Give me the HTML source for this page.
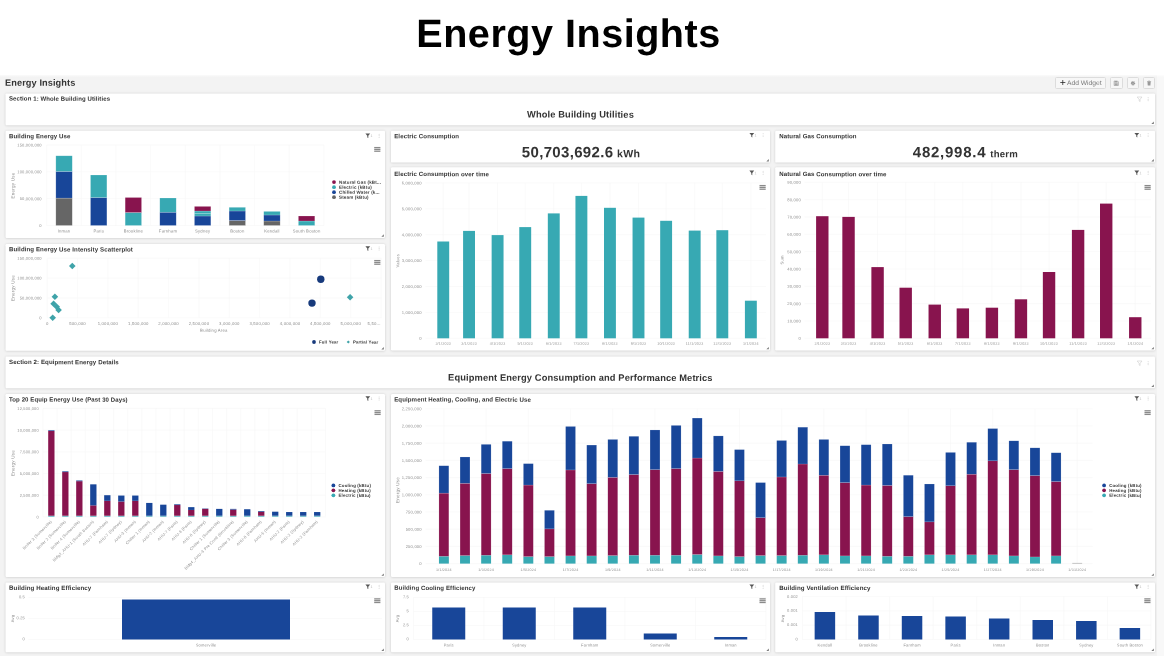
<!DOCTYPE html>
<html lang="en"><head><meta charset="utf-8"><title>Energy Insights</title>
<style>
*{box-sizing:border-box;margin:0;padding:0}
html,body{text-rendering:geometricPrecision;width:1166px;height:656px;overflow:hidden;background:#fff;font-family:"Liberation Sans", sans-serif;}
#slide{position:relative;width:1166px;height:656px;overflow:hidden;background:#fff}
#slide-title{position:absolute;left:0;top:10px;width:1137px;text-align:center;font-weight:bold;font-size:39.6px;line-height:48px;color:#000;letter-spacing:0.5px;white-space:nowrap}
#board{position:absolute;left:0;top:0;width:1166px;height:656px}
#dash{position:absolute;left:-12px;top:74.5px;width:1169px;height:600px;background:linear-gradient(to bottom,#fbfbfb 0,#f3f3f3 2.2px,#f3f3f3 100%)}
#strip{position:absolute;left:1157px;top:74.5px;width:7px;height:600px;background:linear-gradient(to bottom,#fdfdfd 0,#f8f8f8 2.2px,#f8f8f8 100%)}
#dash-title{position:absolute;left:0;top:0;transform-origin:0 0;transform:translate(5px,78.71px) rotate(0.07deg);font-weight:bold;font-size:9.2px;line-height:1;color:#333;white-space:nowrap;letter-spacing:0.1px}
.tb{position:absolute;top:76.5px;height:12.5px;border:0.6px solid #dcdcdc;border-radius:1.5px;background:#f7f7f7;color:#555;font-size:6.7px;line-height:11.3px;text-align:center;white-space:nowrap}
.tb svg{position:absolute;left:0;top:0;width:100%;height:100%}
.panel{position:absolute}
.panel h3{position:absolute;left:3.5px;top:0;transform-origin:0 0;font-size:6.1px;line-height:7px;font-weight:bold;color:#333;white-space:nowrap;letter-spacing:0.1px}
.panel svg{position:absolute;left:0;top:0;overflow:visible;font-family:"Liberation Sans", sans-serif}
.sec-h,.big,.unit{position:absolute;left:0;top:0;transform-origin:0 0;font-weight:bold;color:#333;white-space:nowrap;line-height:1}
.sec-h{font-size:9.3px;letter-spacing:0.1px}
.big{font-size:15px}
</style></head><body>
<div id="slide">
<div id="slide-title">Energy Insights</div>
<div id="board">
<div id="dash"></div><div id="strip"></div>
<div id="dash-title">Energy Insights</div>
<div class="tb" style="left:1055.3px;width:50.6px;color:#777"><b style="font-weight:normal;color:#222;font-size:10.5px;vertical-align:-1.3px;line-height:0;margin-right:-0.3px">+</b> Add Widget</div>
<div class="tb" style="left:1110.2px;width:12.4px"><svg viewBox="0 0 12.4 12.5"><path d="M3.7 3.6 h4.1 l1 1 v4.3 h-5.1 z" fill="#d9d9d9" stroke="#8a8a8a" stroke-width="0.6"/><rect x="4.7" y="3.7" width="2.6" height="1.5" fill="#9a9a9a"/><rect x="4.6" y="6.4" width="3.2" height="2.4" fill="#a5a5a5"/></svg></div>
<div class="tb" style="left:1126.8px;width:12px"><svg viewBox="0 0 12 12.5"><circle cx="6" cy="6.3" r="1.9" fill="none" stroke="#8e8e8e" stroke-width="1.5" stroke-dasharray="0.95 0.54"/><circle cx="6" cy="6.3" r="1.55" fill="#8e8e8e"/><circle cx="6" cy="6.3" r="0.6" fill="#e4e4e4"/></svg></div>
<div class="tb" style="left:1142.9px;width:12.1px"><svg viewBox="0 0 12.1 12.5"><path d="M4.2 4.8 h3.8 l-0.3 4.2 h-3.2 z" fill="#999"/><rect x="3.7" y="3.8" width="4.8" height="0.7" fill="#8a8a8a"/><rect x="5.2" y="3.2" width="1.8" height="0.7" fill="#8a8a8a"/></svg></div>
<svg width="0" height="0" style="position:absolute"><defs><filter id="sh" x="-2%" y="-20%" width="104%" height="140%" color-interpolation-filters="sRGB"><feDropShadow dx="0" dy="0.3" stdDeviation="1.1" flood-color="#000" flood-opacity="0.17"/></filter></defs></svg>
<div class="panel" id="p-sec1" style="left:5px;top:93px;width:1150px;height:33px">
<svg width="1150" height="33" viewBox="5 93 1150 33"><rect x="5.5" y="93.4" width="1149.50" height="31.80" rx="1.2" fill="#fff" filter="url(#sh)"/><text transform="translate(527.00 117.50) rotate(0.08)" font-size="9.3" fill="#333333" letter-spacing="0.13" text-anchor="start" font-weight="bold">Whole Building Utilities</text><path d="M1137.20 97.00 h4.8 l-1.9 2.3 v2.3 l-1 -0.7 v-1.6 z" fill="none" stroke="#c4c4c4" stroke-width="0.5"/><circle cx="1148.10" cy="97.70" r="0.45" fill="#bdbdbd"/><circle cx="1148.10" cy="99.20" r="0.45" fill="#bdbdbd"/><circle cx="1148.10" cy="100.70" r="0.45" fill="#bdbdbd"/><path d="M1153.80 121.60 v2.4 h-2.4 z" fill="#777"/></svg>
<h3 style="font-size:6.03px;transform:translate(0.00px,3.60px) rotate(0.07deg)">Section 1: Whole Building Utilities</h3>
</div>
<div class="panel" id="p-beu" style="left:5px;top:130px;width:380px;height:108px">
<svg width="380" height="108" viewBox="5 130 380 108"><rect x="5.5" y="130.7" width="379.50" height="107.20" rx="1.2" fill="#fff" filter="url(#sh)"/><line x1="46.70" y1="225.50" x2="324.00" y2="225.50" stroke="#f6f6f6" stroke-width="0.6"/><text transform="translate(41.80 227.00) rotate(0.08)" font-size="4.07" fill="#8f8f8f" letter-spacing="0.18" text-anchor="end" font-weight="normal" >0</text><line x1="46.70" y1="198.65" x2="324.00" y2="198.65" stroke="#f6f6f6" stroke-width="0.6"/><text transform="translate(41.80 200.15) rotate(0.08)" font-size="4.07" fill="#8f8f8f" letter-spacing="0.18" text-anchor="end" font-weight="normal" >50,000,000</text><line x1="46.70" y1="171.80" x2="324.00" y2="171.80" stroke="#f6f6f6" stroke-width="0.6"/><text transform="translate(41.80 173.30) rotate(0.08)" font-size="4.07" fill="#8f8f8f" letter-spacing="0.18" text-anchor="end" font-weight="normal" >100,000,000</text><line x1="46.70" y1="144.95" x2="324.00" y2="144.95" stroke="#f6f6f6" stroke-width="0.6"/><text transform="translate(41.80 146.45) rotate(0.08)" font-size="4.07" fill="#8f8f8f" letter-spacing="0.18" text-anchor="end" font-weight="normal" >150,000,000</text><line x1="46.70" y1="144.95" x2="46.70" y2="225.50" stroke="#f6f6f6" stroke-width="0.6"/><line x1="81.35" y1="144.95" x2="81.35" y2="225.50" stroke="#f6f6f6" stroke-width="0.6"/><line x1="116.00" y1="144.95" x2="116.00" y2="225.50" stroke="#f6f6f6" stroke-width="0.6"/><line x1="150.65" y1="144.95" x2="150.65" y2="225.50" stroke="#f6f6f6" stroke-width="0.6"/><line x1="185.30" y1="144.95" x2="185.30" y2="225.50" stroke="#f6f6f6" stroke-width="0.6"/><line x1="219.95" y1="144.95" x2="219.95" y2="225.50" stroke="#f6f6f6" stroke-width="0.6"/><line x1="254.60" y1="144.95" x2="254.60" y2="225.50" stroke="#f6f6f6" stroke-width="0.6"/><line x1="289.25" y1="144.95" x2="289.25" y2="225.50" stroke="#f6f6f6" stroke-width="0.6"/><line x1="323.90" y1="144.95" x2="323.90" y2="225.50" stroke="#f6f6f6" stroke-width="0.6"/><text x="0.00" y="0.00" font-size="4.6" fill="#8f8f8f" letter-spacing="0.18" text-anchor="middle" font-weight="normal" transform="translate(14.4 185.5) rotate(-90.08)">Energy Use</text><rect x="55.85" y="198.10" width="16.40" height="27.40" fill="#666666" stroke="#ffffff" stroke-opacity="0.35" stroke-width="0.5"/><rect x="55.85" y="171.40" width="16.40" height="26.70" fill="#184699" stroke="#ffffff" stroke-opacity="0.35" stroke-width="0.5"/><rect x="55.85" y="155.80" width="16.40" height="15.60" fill="#37a9b3" stroke="#ffffff" stroke-opacity="0.35" stroke-width="0.5"/><text transform="translate(64.05 232.40) rotate(0.08)" font-size="4.25" fill="#8f8f8f" letter-spacing="0.18" text-anchor="middle" font-weight="normal" >Inman</text><rect x="90.50" y="197.50" width="16.40" height="28.00" fill="#184699" stroke="#ffffff" stroke-opacity="0.35" stroke-width="0.5"/><rect x="90.50" y="175.00" width="16.40" height="22.50" fill="#37a9b3" stroke="#ffffff" stroke-opacity="0.35" stroke-width="0.5"/><text transform="translate(98.70 232.40) rotate(0.08)" font-size="4.25" fill="#8f8f8f" letter-spacing="0.18" text-anchor="middle" font-weight="normal" >Paris</text><rect x="125.15" y="212.50" width="16.40" height="13.00" fill="#37a9b3" stroke="#ffffff" stroke-opacity="0.35" stroke-width="0.5"/><rect x="125.15" y="197.50" width="16.40" height="15.00" fill="#88144e" stroke="#ffffff" stroke-opacity="0.35" stroke-width="0.5"/><text transform="translate(133.35 232.40) rotate(0.08)" font-size="4.25" fill="#8f8f8f" letter-spacing="0.18" text-anchor="middle" font-weight="normal" >Brookline</text><rect x="159.80" y="212.20" width="16.40" height="13.30" fill="#184699" stroke="#ffffff" stroke-opacity="0.35" stroke-width="0.5"/><rect x="159.80" y="198.00" width="16.40" height="14.20" fill="#37a9b3" stroke="#ffffff" stroke-opacity="0.35" stroke-width="0.5"/><text transform="translate(168.00 232.40) rotate(0.08)" font-size="4.25" fill="#8f8f8f" letter-spacing="0.18" text-anchor="middle" font-weight="normal" >Farnham</text><rect x="194.45" y="216.00" width="16.40" height="9.50" fill="#184699" stroke="#ffffff" stroke-opacity="0.35" stroke-width="0.5"/><rect x="194.45" y="213.60" width="16.40" height="2.40" fill="#37a9b3" stroke="#ffffff" stroke-opacity="0.35" stroke-width="0.5"/><rect x="194.45" y="211.00" width="16.40" height="2.60" fill="#37a9b3" stroke="#ffffff" stroke-opacity="0.35" stroke-width="0.5"/><rect x="194.45" y="206.40" width="16.40" height="4.60" fill="#88144e" stroke="#ffffff" stroke-opacity="0.35" stroke-width="0.5"/><text transform="translate(202.65 232.40) rotate(0.08)" font-size="4.25" fill="#8f8f8f" letter-spacing="0.18" text-anchor="middle" font-weight="normal" >Sydney</text><rect x="229.10" y="220.50" width="16.40" height="5.00" fill="#666666" stroke="#ffffff" stroke-opacity="0.35" stroke-width="0.5"/><rect x="229.10" y="211.00" width="16.40" height="9.50" fill="#184699" stroke="#ffffff" stroke-opacity="0.35" stroke-width="0.5"/><rect x="229.10" y="207.30" width="16.40" height="3.70" fill="#37a9b3" stroke="#ffffff" stroke-opacity="0.35" stroke-width="0.5"/><text transform="translate(237.30 232.40) rotate(0.08)" font-size="4.25" fill="#8f8f8f" letter-spacing="0.18" text-anchor="middle" font-weight="normal" >Boston</text><rect x="263.75" y="221.00" width="16.40" height="4.50" fill="#666666" stroke="#ffffff" stroke-opacity="0.35" stroke-width="0.5"/><rect x="263.75" y="215.00" width="16.40" height="6.00" fill="#184699" stroke="#ffffff" stroke-opacity="0.35" stroke-width="0.5"/><rect x="263.75" y="211.40" width="16.40" height="3.60" fill="#37a9b3" stroke="#ffffff" stroke-opacity="0.35" stroke-width="0.5"/><text transform="translate(271.95 232.40) rotate(0.08)" font-size="4.25" fill="#8f8f8f" letter-spacing="0.18" text-anchor="middle" font-weight="normal" >Kendall</text><rect x="298.40" y="221.00" width="16.40" height="4.50" fill="#37a9b3" stroke="#ffffff" stroke-opacity="0.35" stroke-width="0.5"/><rect x="298.40" y="216.00" width="16.40" height="5.00" fill="#88144e" stroke="#ffffff" stroke-opacity="0.35" stroke-width="0.5"/><text transform="translate(306.60 232.40) rotate(0.08)" font-size="4.25" fill="#8f8f8f" letter-spacing="0.18" text-anchor="middle" font-weight="normal" >South Boston</text><circle cx="334" cy="182.10" r="1.9" fill="#88144e"/><text transform="translate(339.00 183.65) rotate(0.08)" font-size="4.48" fill="#333333" letter-spacing="0.18" text-anchor="start" font-weight="bold" >Natural Gas (kBt...</text><circle cx="334" cy="187.13" r="1.9" fill="#37a9b3"/><text transform="translate(339.00 188.68) rotate(0.08)" font-size="4.48" fill="#333333" letter-spacing="0.18" text-anchor="start" font-weight="bold" >Electric (kBtu)</text><circle cx="334" cy="192.16" r="1.9" fill="#184699"/><text transform="translate(339.00 193.71) rotate(0.08)" font-size="4.48" fill="#333333" letter-spacing="0.18" text-anchor="start" font-weight="bold" >Chilled Water (k...</text><circle cx="334" cy="197.19" r="1.9" fill="#666666"/><text transform="translate(339.00 198.74) rotate(0.08)" font-size="4.48" fill="#333333" letter-spacing="0.18" text-anchor="start" font-weight="bold" >Steam (kBtu)</text><rect x="374.20" y="146.95" width="6.20" height="1.30" fill="#8a8a8a" /><rect x="374.20" y="148.75" width="6.20" height="1.30" fill="#8a8a8a" /><rect x="374.20" y="150.55" width="6.20" height="1.30" fill="#8a8a8a" /><path d="M365.40 133.50 h4.8 l-1.9 2.3 v2.3 l-1 -0.7 v-1.6 z" fill="#555"/><text transform="translate(371.70 137.10) rotate(0.08)" font-size="3.54" fill="#b5b5b5" letter-spacing="0.18" text-anchor="middle" font-weight="normal" >1</text><circle cx="379.10" cy="134.20" r="0.45" fill="#bdbdbd"/><circle cx="379.10" cy="135.70" r="0.45" fill="#bdbdbd"/><circle cx="379.10" cy="137.20" r="0.45" fill="#bdbdbd"/><path d="M383.80 234.30 v2.4 h-2.4 z" fill="#777"/></svg>
<h3 style="transform:translate(0.00px,3.14px) rotate(0.07deg)">Building Energy Use</h3>
</div>
<div class="panel" id="p-eui" style="left:5px;top:244px;width:380px;height:107px">
<svg width="380" height="107" viewBox="5 244 380 107"><rect x="5.5" y="244" width="379.50" height="106.70" rx="1.2" fill="#fff" filter="url(#sh)"/><line x1="47.20" y1="317.80" x2="381.50" y2="317.80" stroke="#f6f6f6" stroke-width="0.6"/><text transform="translate(41.80 319.30) rotate(0.08)" font-size="4.07" fill="#8f8f8f" letter-spacing="0.18" text-anchor="end" font-weight="normal" >0</text><line x1="47.20" y1="297.95" x2="381.50" y2="297.95" stroke="#f6f6f6" stroke-width="0.6"/><text transform="translate(41.80 299.45) rotate(0.08)" font-size="4.07" fill="#8f8f8f" letter-spacing="0.18" text-anchor="end" font-weight="normal" >50,000,000</text><line x1="47.20" y1="278.10" x2="381.50" y2="278.10" stroke="#f6f6f6" stroke-width="0.6"/><text transform="translate(41.80 279.60) rotate(0.08)" font-size="4.07" fill="#8f8f8f" letter-spacing="0.18" text-anchor="end" font-weight="normal" >100,000,000</text><line x1="47.20" y1="258.25" x2="381.50" y2="258.25" stroke="#f6f6f6" stroke-width="0.6"/><text transform="translate(41.80 259.75) rotate(0.08)" font-size="4.07" fill="#8f8f8f" letter-spacing="0.18" text-anchor="end" font-weight="normal" >150,000,000</text><line x1="47.20" y1="258.25" x2="47.20" y2="317.80" stroke="#f6f6f6" stroke-width="0.6"/><text transform="translate(47.20 325.10) rotate(0.08)" font-size="4.25" fill="#8f8f8f" letter-spacing="0.18" text-anchor="middle" font-weight="normal" >0</text><line x1="77.55" y1="258.25" x2="77.55" y2="317.80" stroke="#f6f6f6" stroke-width="0.6"/><text transform="translate(77.55 325.10) rotate(0.08)" font-size="4.25" fill="#8f8f8f" letter-spacing="0.18" text-anchor="middle" font-weight="normal" >500,000</text><line x1="107.90" y1="258.25" x2="107.90" y2="317.80" stroke="#f6f6f6" stroke-width="0.6"/><text transform="translate(107.90 325.10) rotate(0.08)" font-size="4.25" fill="#8f8f8f" letter-spacing="0.18" text-anchor="middle" font-weight="normal" >1,000,000</text><line x1="138.25" y1="258.25" x2="138.25" y2="317.80" stroke="#f6f6f6" stroke-width="0.6"/><text transform="translate(138.25 325.10) rotate(0.08)" font-size="4.25" fill="#8f8f8f" letter-spacing="0.18" text-anchor="middle" font-weight="normal" >1,500,000</text><line x1="168.60" y1="258.25" x2="168.60" y2="317.80" stroke="#f6f6f6" stroke-width="0.6"/><text transform="translate(168.60 325.10) rotate(0.08)" font-size="4.25" fill="#8f8f8f" letter-spacing="0.18" text-anchor="middle" font-weight="normal" >2,000,000</text><line x1="198.95" y1="258.25" x2="198.95" y2="317.80" stroke="#f6f6f6" stroke-width="0.6"/><text transform="translate(198.95 325.10) rotate(0.08)" font-size="4.25" fill="#8f8f8f" letter-spacing="0.18" text-anchor="middle" font-weight="normal" >2,500,000</text><line x1="229.30" y1="258.25" x2="229.30" y2="317.80" stroke="#f6f6f6" stroke-width="0.6"/><text transform="translate(229.30 325.10) rotate(0.08)" font-size="4.25" fill="#8f8f8f" letter-spacing="0.18" text-anchor="middle" font-weight="normal" >3,000,000</text><line x1="259.65" y1="258.25" x2="259.65" y2="317.80" stroke="#f6f6f6" stroke-width="0.6"/><text transform="translate(259.65 325.10) rotate(0.08)" font-size="4.25" fill="#8f8f8f" letter-spacing="0.18" text-anchor="middle" font-weight="normal" >3,500,000</text><line x1="290.00" y1="258.25" x2="290.00" y2="317.80" stroke="#f6f6f6" stroke-width="0.6"/><text transform="translate(290.00 325.10) rotate(0.08)" font-size="4.25" fill="#8f8f8f" letter-spacing="0.18" text-anchor="middle" font-weight="normal" >4,000,000</text><line x1="320.35" y1="258.25" x2="320.35" y2="317.80" stroke="#f6f6f6" stroke-width="0.6"/><text transform="translate(320.35 325.10) rotate(0.08)" font-size="4.25" fill="#8f8f8f" letter-spacing="0.18" text-anchor="middle" font-weight="normal" >4,500,000</text><line x1="350.70" y1="258.25" x2="350.70" y2="317.80" stroke="#f6f6f6" stroke-width="0.6"/><text transform="translate(350.70 325.10) rotate(0.08)" font-size="4.25" fill="#8f8f8f" letter-spacing="0.18" text-anchor="middle" font-weight="normal" >5,000,000</text><line x1="381.05" y1="258.25" x2="381.05" y2="317.80" stroke="#f6f6f6" stroke-width="0.6"/><text transform="translate(367.60 325.10) rotate(0.08)" font-size="4.25" fill="#8f8f8f" letter-spacing="0.18" text-anchor="start" font-weight="normal" >5,50...</text><text x="0.00" y="0.00" font-size="4.6" fill="#8f8f8f" letter-spacing="0.18" text-anchor="middle" font-weight="normal" transform="translate(14.4 288) rotate(-90.08)">Energy Use</text><text transform="translate(213.80 331.80) rotate(0.08)" font-size="4.25" fill="#8f8f8f" letter-spacing="0.18" text-anchor="middle" font-weight="normal" >Building Area</text><path d="M72.30 262.70 L75.60 266.00 L72.30 269.30 L69.00 266.00 z" fill="#3fa3a9"/><path d="M54.90 293.40 L58.20 296.70 L54.90 300.00 L51.60 296.70 z" fill="#3fa3a9"/><path d="M53.60 300.40 L56.90 303.70 L53.60 307.00 L50.30 303.70 z" fill="#3fa3a9"/><path d="M56.70 303.50 L60.00 306.80 L56.70 310.10 L53.40 306.80 z" fill="#3fa3a9"/><path d="M58.60 306.70 L61.90 310.00 L58.60 313.30 L55.30 310.00 z" fill="#3fa3a9"/><path d="M52.70 314.50 L56.00 317.80 L52.70 321.10 L49.40 317.80 z" fill="#3fa3a9"/><path d="M350.10 294.00 L353.40 297.30 L350.10 300.60 L346.80 297.30 z" fill="#3fa3a9"/><circle cx="320.8" cy="279.3" r="3.7" fill="#173a7c"/><circle cx="312.0" cy="303.1" r="3.7" fill="#173a7c"/><circle cx="314" cy="342" r="1.9" fill="#173a7c"/><text transform="translate(319.00 343.60) rotate(0.08)" font-size="4.31" fill="#333333" letter-spacing="0.18" text-anchor="start" font-weight="bold" >Full Year</text><path d="M348.30 340.40 L349.90 342.00 L348.30 343.60 L346.70 342.00 z" fill="#3fa3a9"/><text transform="translate(352.90 343.60) rotate(0.08)" font-size="4.31" fill="#333333" letter-spacing="0.18" text-anchor="start" font-weight="bold" >Partial Year</text><rect x="374.20" y="259.95" width="6.20" height="1.30" fill="#8a8a8a" /><rect x="374.20" y="261.75" width="6.20" height="1.30" fill="#8a8a8a" /><rect x="374.20" y="263.55" width="6.20" height="1.30" fill="#8a8a8a" /><path d="M365.40 246.30 h4.8 l-1.9 2.3 v2.3 l-1 -0.7 v-1.6 z" fill="#555"/><text transform="translate(371.70 249.90) rotate(0.08)" font-size="3.54" fill="#b5b5b5" letter-spacing="0.18" text-anchor="middle" font-weight="normal" >1</text><circle cx="379.10" cy="247.00" r="0.45" fill="#bdbdbd"/><circle cx="379.10" cy="248.50" r="0.45" fill="#bdbdbd"/><circle cx="379.10" cy="250.00" r="0.45" fill="#bdbdbd"/><path d="M383.80 347.10 v2.4 h-2.4 z" fill="#777"/></svg>
<h3 style="transform:translate(0.00px,2.32px) rotate(0.07deg)">Building Energy Use Intensity Scatterplot</h3>
</div>
<div class="panel" id="p-elec" style="left:391px;top:130px;width:379px;height:33px">
<svg width="379" height="33" viewBox="391 130 379 33"><rect x="391" y="130.7" width="379.00" height="31.90" rx="1.2" fill="#fff" filter="url(#sh)"/><text transform="translate(521.80 157.20) rotate(0.08)" font-size="15" fill="#333333" letter-spacing="0.33" text-anchor="start" font-weight="bold">50,703,692.6</text><text transform="translate(617.00 157.20) rotate(0.08)" font-size="10.6" fill="#333333" letter-spacing="0.3" text-anchor="start" font-weight="bold">kWh</text><path d="M749.40 132.90 h4.8 l-1.9 2.3 v2.3 l-1 -0.7 v-1.6 z" fill="#555"/><text transform="translate(755.70 136.50) rotate(0.08)" font-size="3.54" fill="#b5b5b5" letter-spacing="0.18" text-anchor="middle" font-weight="normal" >1</text><circle cx="763.10" cy="133.60" r="0.45" fill="#bdbdbd"/><circle cx="763.10" cy="135.10" r="0.45" fill="#bdbdbd"/><circle cx="763.10" cy="136.60" r="0.45" fill="#bdbdbd"/><path d="M768.80 159.00 v2.4 h-2.4 z" fill="#777"/></svg>
<h3 style="transform:translate(-0.80px,3.14px) rotate(0.07deg)">Electric Consumption</h3>
</div>
<div class="panel" id="p-elect" style="left:391px;top:167px;width:379px;height:184px">
<svg width="379" height="184" viewBox="391 167 379 184"><rect x="391" y="167.2" width="379.00" height="183.30" rx="1.2" fill="#fff" filter="url(#sh)"/><line x1="425.50" y1="338.30" x2="766.00" y2="338.30" stroke="#f6f6f6" stroke-width="0.6"/><text transform="translate(421.80 339.80) rotate(0.08)" font-size="4.13" fill="#8f8f8f" letter-spacing="0.18" text-anchor="end" font-weight="normal" >0</text><line x1="425.50" y1="312.40" x2="766.00" y2="312.40" stroke="#f6f6f6" stroke-width="0.6"/><text transform="translate(421.80 313.90) rotate(0.08)" font-size="4.13" fill="#8f8f8f" letter-spacing="0.18" text-anchor="end" font-weight="normal" >1,000,000</text><line x1="425.50" y1="286.50" x2="766.00" y2="286.50" stroke="#f6f6f6" stroke-width="0.6"/><text transform="translate(421.80 288.00) rotate(0.08)" font-size="4.13" fill="#8f8f8f" letter-spacing="0.18" text-anchor="end" font-weight="normal" >2,000,000</text><line x1="425.50" y1="260.60" x2="766.00" y2="260.60" stroke="#f6f6f6" stroke-width="0.6"/><text transform="translate(421.80 262.10) rotate(0.08)" font-size="4.13" fill="#8f8f8f" letter-spacing="0.18" text-anchor="end" font-weight="normal" >3,000,000</text><line x1="425.50" y1="234.70" x2="766.00" y2="234.70" stroke="#f6f6f6" stroke-width="0.6"/><text transform="translate(421.80 236.20) rotate(0.08)" font-size="4.13" fill="#8f8f8f" letter-spacing="0.18" text-anchor="end" font-weight="normal" >4,000,000</text><line x1="425.50" y1="208.80" x2="766.00" y2="208.80" stroke="#f6f6f6" stroke-width="0.6"/><text transform="translate(421.80 210.30) rotate(0.08)" font-size="4.13" fill="#8f8f8f" letter-spacing="0.18" text-anchor="end" font-weight="normal" >5,000,000</text><line x1="425.50" y1="182.90" x2="766.00" y2="182.90" stroke="#f6f6f6" stroke-width="0.6"/><text transform="translate(421.80 184.40) rotate(0.08)" font-size="4.13" fill="#8f8f8f" letter-spacing="0.18" text-anchor="end" font-weight="normal" >6,000,000</text><line x1="443.25" y1="182.90" x2="443.25" y2="338.30" stroke="#f6f6f6" stroke-width="0.6"/><line x1="469.04" y1="182.90" x2="469.04" y2="338.30" stroke="#f6f6f6" stroke-width="0.6"/><line x1="497.59" y1="182.90" x2="497.59" y2="338.30" stroke="#f6f6f6" stroke-width="0.6"/><line x1="525.22" y1="182.90" x2="525.22" y2="338.30" stroke="#f6f6f6" stroke-width="0.6"/><line x1="553.77" y1="182.90" x2="553.77" y2="338.30" stroke="#f6f6f6" stroke-width="0.6"/><line x1="581.40" y1="182.90" x2="581.40" y2="338.30" stroke="#f6f6f6" stroke-width="0.6"/><line x1="609.95" y1="182.90" x2="609.95" y2="338.30" stroke="#f6f6f6" stroke-width="0.6"/><line x1="638.50" y1="182.90" x2="638.50" y2="338.30" stroke="#f6f6f6" stroke-width="0.6"/><line x1="666.13" y1="182.90" x2="666.13" y2="338.30" stroke="#f6f6f6" stroke-width="0.6"/><line x1="694.68" y1="182.90" x2="694.68" y2="338.30" stroke="#f6f6f6" stroke-width="0.6"/><line x1="722.31" y1="182.90" x2="722.31" y2="338.30" stroke="#f6f6f6" stroke-width="0.6"/><line x1="750.86" y1="182.90" x2="750.86" y2="338.30" stroke="#f6f6f6" stroke-width="0.6"/><rect x="437.30" y="241.50" width="11.90" height="96.80" fill="#37a9b3" /><text transform="translate(443.25 344.80) rotate(0.08)" font-size="3.66" fill="#8f8f8f" letter-spacing="0.18" text-anchor="middle" font-weight="normal" >2/1/2023</text><rect x="463.09" y="230.90" width="11.90" height="107.40" fill="#37a9b3" /><text transform="translate(469.04 344.80) rotate(0.08)" font-size="3.66" fill="#8f8f8f" letter-spacing="0.18" text-anchor="middle" font-weight="normal" >3/1/2023</text><rect x="491.64" y="235.10" width="11.90" height="103.20" fill="#37a9b3" /><text transform="translate(497.59 344.80) rotate(0.08)" font-size="3.66" fill="#8f8f8f" letter-spacing="0.18" text-anchor="middle" font-weight="normal" >4/1/2023</text><rect x="519.27" y="227.10" width="11.90" height="111.20" fill="#37a9b3" /><text transform="translate(525.22 344.80) rotate(0.08)" font-size="3.66" fill="#8f8f8f" letter-spacing="0.18" text-anchor="middle" font-weight="normal" >5/1/2023</text><rect x="547.82" y="213.40" width="11.90" height="124.90" fill="#37a9b3" /><text transform="translate(553.77 344.80) rotate(0.08)" font-size="3.66" fill="#8f8f8f" letter-spacing="0.18" text-anchor="middle" font-weight="normal" >6/1/2023</text><rect x="575.45" y="195.90" width="11.90" height="142.40" fill="#37a9b3" /><text transform="translate(581.40 344.80) rotate(0.08)" font-size="3.66" fill="#8f8f8f" letter-spacing="0.18" text-anchor="middle" font-weight="normal" >7/1/2023</text><rect x="604.00" y="207.80" width="11.90" height="130.50" fill="#37a9b3" /><text transform="translate(609.95 344.80) rotate(0.08)" font-size="3.66" fill="#8f8f8f" letter-spacing="0.18" text-anchor="middle" font-weight="normal" >8/1/2023</text><rect x="632.55" y="217.60" width="11.90" height="120.70" fill="#37a9b3" /><text transform="translate(638.50 344.80) rotate(0.08)" font-size="3.66" fill="#8f8f8f" letter-spacing="0.18" text-anchor="middle" font-weight="normal" >9/1/2023</text><rect x="660.18" y="220.80" width="11.90" height="117.50" fill="#37a9b3" /><text transform="translate(666.13 344.80) rotate(0.08)" font-size="3.66" fill="#8f8f8f" letter-spacing="0.18" text-anchor="middle" font-weight="normal" >10/1/2023</text><rect x="688.73" y="230.60" width="11.90" height="107.70" fill="#37a9b3" /><text transform="translate(694.68 344.80) rotate(0.08)" font-size="3.66" fill="#8f8f8f" letter-spacing="0.18" text-anchor="middle" font-weight="normal" >11/1/2023</text><rect x="716.36" y="230.20" width="11.90" height="108.10" fill="#37a9b3" /><text transform="translate(722.31 344.80) rotate(0.08)" font-size="3.66" fill="#8f8f8f" letter-spacing="0.18" text-anchor="middle" font-weight="normal" >12/1/2023</text><rect x="744.91" y="300.70" width="11.90" height="37.60" fill="#37a9b3" /><text transform="translate(750.86 344.80) rotate(0.08)" font-size="3.66" fill="#8f8f8f" letter-spacing="0.18" text-anchor="middle" font-weight="normal" >1/1/2024</text><text x="0.00" y="0.00" font-size="4.13" fill="#8f8f8f" letter-spacing="0.18" text-anchor="middle" font-weight="normal" transform="translate(399.3 260.7) rotate(-90.08)">Values</text><rect x="759.50" y="184.95" width="6.20" height="1.30" fill="#8a8a8a" /><rect x="759.50" y="186.75" width="6.20" height="1.30" fill="#8a8a8a" /><rect x="759.50" y="188.55" width="6.20" height="1.30" fill="#8a8a8a" /><path d="M749.40 170.60 h4.8 l-1.9 2.3 v2.3 l-1 -0.7 v-1.6 z" fill="#555"/><text transform="translate(755.70 174.20) rotate(0.08)" font-size="3.54" fill="#b5b5b5" letter-spacing="0.18" text-anchor="middle" font-weight="normal" >1</text><circle cx="763.10" cy="171.30" r="0.45" fill="#bdbdbd"/><circle cx="763.10" cy="172.80" r="0.45" fill="#bdbdbd"/><circle cx="763.10" cy="174.30" r="0.45" fill="#bdbdbd"/><path d="M768.80 346.90 v2.4 h-2.4 z" fill="#777"/></svg>
<h3 style="transform:translate(-0.80px,4.06px) rotate(0.07deg)">Electric Consumption over time</h3>
</div>
<div class="panel" id="p-gas" style="left:775px;top:130px;width:380px;height:33px">
<svg width="380" height="33" viewBox="775 130 380 33"><rect x="775.2" y="130.7" width="379.80" height="31.90" rx="1.2" fill="#fff" filter="url(#sh)"/><text transform="translate(912.80 157.20) rotate(0.08)" font-size="15" fill="#333333" letter-spacing="0.75" text-anchor="start" font-weight="bold">482,998.4</text><text transform="translate(990.30 157.20) rotate(0.08)" font-size="9.6" fill="#333333" letter-spacing="0.2" text-anchor="start" font-weight="bold">therm</text><path d="M1134.40 132.90 h4.8 l-1.9 2.3 v2.3 l-1 -0.7 v-1.6 z" fill="#555"/><text transform="translate(1140.70 136.50) rotate(0.08)" font-size="3.54" fill="#b5b5b5" letter-spacing="0.18" text-anchor="middle" font-weight="normal" >1</text><circle cx="1148.10" cy="133.60" r="0.45" fill="#bdbdbd"/><circle cx="1148.10" cy="135.10" r="0.45" fill="#bdbdbd"/><circle cx="1148.10" cy="136.60" r="0.45" fill="#bdbdbd"/><path d="M1153.80 159.00 v2.4 h-2.4 z" fill="#777"/></svg>
<h3 style="transform:translate(0.20px,3.14px) rotate(0.07deg)">Natural Gas Consumption</h3>
</div>
<div class="panel" id="p-gast" style="left:775px;top:167px;width:380px;height:184px">
<svg width="380" height="184" viewBox="775 167 380 184"><rect x="775.2" y="167.2" width="379.80" height="183.30" rx="1.2" fill="#fff" filter="url(#sh)"/><line x1="804.50" y1="338.30" x2="1151.00" y2="338.30" stroke="#f6f6f6" stroke-width="0.6"/><text transform="translate(800.90 339.80) rotate(0.08)" font-size="4.13" fill="#8f8f8f" letter-spacing="0.18" text-anchor="end" font-weight="normal" >0</text><line x1="804.50" y1="320.97" x2="1151.00" y2="320.97" stroke="#f6f6f6" stroke-width="0.6"/><text transform="translate(800.90 322.47) rotate(0.08)" font-size="4.13" fill="#8f8f8f" letter-spacing="0.18" text-anchor="end" font-weight="normal" >10,000</text><line x1="804.50" y1="303.64" x2="1151.00" y2="303.64" stroke="#f6f6f6" stroke-width="0.6"/><text transform="translate(800.90 305.14) rotate(0.08)" font-size="4.13" fill="#8f8f8f" letter-spacing="0.18" text-anchor="end" font-weight="normal" >20,000</text><line x1="804.50" y1="286.31" x2="1151.00" y2="286.31" stroke="#f6f6f6" stroke-width="0.6"/><text transform="translate(800.90 287.81) rotate(0.08)" font-size="4.13" fill="#8f8f8f" letter-spacing="0.18" text-anchor="end" font-weight="normal" >30,000</text><line x1="804.50" y1="268.98" x2="1151.00" y2="268.98" stroke="#f6f6f6" stroke-width="0.6"/><text transform="translate(800.90 270.48) rotate(0.08)" font-size="4.13" fill="#8f8f8f" letter-spacing="0.18" text-anchor="end" font-weight="normal" >40,000</text><line x1="804.50" y1="251.65" x2="1151.00" y2="251.65" stroke="#f6f6f6" stroke-width="0.6"/><text transform="translate(800.90 253.15) rotate(0.08)" font-size="4.13" fill="#8f8f8f" letter-spacing="0.18" text-anchor="end" font-weight="normal" >50,000</text><line x1="804.50" y1="234.32" x2="1151.00" y2="234.32" stroke="#f6f6f6" stroke-width="0.6"/><text transform="translate(800.90 235.82) rotate(0.08)" font-size="4.13" fill="#8f8f8f" letter-spacing="0.18" text-anchor="end" font-weight="normal" >60,000</text><line x1="804.50" y1="216.99" x2="1151.00" y2="216.99" stroke="#f6f6f6" stroke-width="0.6"/><text transform="translate(800.90 218.49) rotate(0.08)" font-size="4.13" fill="#8f8f8f" letter-spacing="0.18" text-anchor="end" font-weight="normal" >70,000</text><line x1="804.50" y1="199.66" x2="1151.00" y2="199.66" stroke="#f6f6f6" stroke-width="0.6"/><text transform="translate(800.90 201.16) rotate(0.08)" font-size="4.13" fill="#8f8f8f" letter-spacing="0.18" text-anchor="end" font-weight="normal" >80,000</text><line x1="804.50" y1="182.33" x2="1151.00" y2="182.33" stroke="#f6f6f6" stroke-width="0.6"/><text transform="translate(800.90 183.83) rotate(0.08)" font-size="4.13" fill="#8f8f8f" letter-spacing="0.18" text-anchor="end" font-weight="normal" >90,000</text><line x1="822.30" y1="182.33" x2="822.30" y2="338.30" stroke="#f6f6f6" stroke-width="0.6"/><line x1="848.54" y1="182.33" x2="848.54" y2="338.30" stroke="#f6f6f6" stroke-width="0.6"/><line x1="877.58" y1="182.33" x2="877.58" y2="338.30" stroke="#f6f6f6" stroke-width="0.6"/><line x1="905.69" y1="182.33" x2="905.69" y2="338.30" stroke="#f6f6f6" stroke-width="0.6"/><line x1="934.74" y1="182.33" x2="934.74" y2="338.30" stroke="#f6f6f6" stroke-width="0.6"/><line x1="962.85" y1="182.33" x2="962.85" y2="338.30" stroke="#f6f6f6" stroke-width="0.6"/><line x1="991.90" y1="182.33" x2="991.90" y2="338.30" stroke="#f6f6f6" stroke-width="0.6"/><line x1="1020.94" y1="182.33" x2="1020.94" y2="338.30" stroke="#f6f6f6" stroke-width="0.6"/><line x1="1049.05" y1="182.33" x2="1049.05" y2="338.30" stroke="#f6f6f6" stroke-width="0.6"/><line x1="1078.10" y1="182.33" x2="1078.10" y2="338.30" stroke="#f6f6f6" stroke-width="0.6"/><line x1="1106.21" y1="182.33" x2="1106.21" y2="338.30" stroke="#f6f6f6" stroke-width="0.6"/><line x1="1135.26" y1="182.33" x2="1135.26" y2="338.30" stroke="#f6f6f6" stroke-width="0.6"/><rect x="816.10" y="216.20" width="12.40" height="122.10" fill="#88144e" /><text transform="translate(822.30 344.80) rotate(0.08)" font-size="3.66" fill="#8f8f8f" letter-spacing="0.18" text-anchor="middle" font-weight="normal" >2/1/2023</text><rect x="842.34" y="216.90" width="12.40" height="121.40" fill="#88144e" /><text transform="translate(848.54 344.80) rotate(0.08)" font-size="3.66" fill="#8f8f8f" letter-spacing="0.18" text-anchor="middle" font-weight="normal" >3/1/2023</text><rect x="871.38" y="267.10" width="12.40" height="71.20" fill="#88144e" /><text transform="translate(877.58 344.80) rotate(0.08)" font-size="3.66" fill="#8f8f8f" letter-spacing="0.18" text-anchor="middle" font-weight="normal" >4/1/2023</text><rect x="899.49" y="287.70" width="12.40" height="50.60" fill="#88144e" /><text transform="translate(905.69 344.80) rotate(0.08)" font-size="3.66" fill="#8f8f8f" letter-spacing="0.18" text-anchor="middle" font-weight="normal" >5/1/2023</text><rect x="928.54" y="304.60" width="12.40" height="33.70" fill="#88144e" /><text transform="translate(934.74 344.80) rotate(0.08)" font-size="3.66" fill="#8f8f8f" letter-spacing="0.18" text-anchor="middle" font-weight="normal" >6/1/2023</text><rect x="956.65" y="308.40" width="12.40" height="29.90" fill="#88144e" /><text transform="translate(962.85 344.80) rotate(0.08)" font-size="3.66" fill="#8f8f8f" letter-spacing="0.18" text-anchor="middle" font-weight="normal" >7/1/2023</text><rect x="985.70" y="307.70" width="12.40" height="30.60" fill="#88144e" /><text transform="translate(991.90 344.80) rotate(0.08)" font-size="3.66" fill="#8f8f8f" letter-spacing="0.18" text-anchor="middle" font-weight="normal" >8/1/2023</text><rect x="1014.74" y="299.30" width="12.40" height="39.00" fill="#88144e" /><text transform="translate(1020.94 344.80) rotate(0.08)" font-size="3.66" fill="#8f8f8f" letter-spacing="0.18" text-anchor="middle" font-weight="normal" >9/1/2023</text><rect x="1042.85" y="272.00" width="12.40" height="66.30" fill="#88144e" /><text transform="translate(1049.05 344.80) rotate(0.08)" font-size="3.66" fill="#8f8f8f" letter-spacing="0.18" text-anchor="middle" font-weight="normal" >10/1/2023</text><rect x="1071.90" y="229.90" width="12.40" height="108.40" fill="#88144e" /><text transform="translate(1078.10 344.80) rotate(0.08)" font-size="3.66" fill="#8f8f8f" letter-spacing="0.18" text-anchor="middle" font-weight="normal" >11/1/2023</text><rect x="1100.01" y="203.60" width="12.40" height="134.70" fill="#88144e" /><text transform="translate(1106.21 344.80) rotate(0.08)" font-size="3.66" fill="#8f8f8f" letter-spacing="0.18" text-anchor="middle" font-weight="normal" >12/1/2023</text><rect x="1129.06" y="317.20" width="12.40" height="21.10" fill="#88144e" /><text transform="translate(1135.26 344.80) rotate(0.08)" font-size="3.66" fill="#8f8f8f" letter-spacing="0.18" text-anchor="middle" font-weight="normal" >1/1/2024</text><text x="0.00" y="0.00" font-size="4.13" fill="#8f8f8f" letter-spacing="0.18" text-anchor="middle" font-weight="normal" transform="translate(783.5 260) rotate(-90.08)">Sum</text><rect x="1144.50" y="184.95" width="6.20" height="1.30" fill="#8a8a8a" /><rect x="1144.50" y="186.75" width="6.20" height="1.30" fill="#8a8a8a" /><rect x="1144.50" y="188.55" width="6.20" height="1.30" fill="#8a8a8a" /><path d="M1134.40 170.60 h4.8 l-1.9 2.3 v2.3 l-1 -0.7 v-1.6 z" fill="#555"/><text transform="translate(1140.70 174.20) rotate(0.08)" font-size="3.54" fill="#b5b5b5" letter-spacing="0.18" text-anchor="middle" font-weight="normal" >1</text><circle cx="1148.10" cy="171.30" r="0.45" fill="#bdbdbd"/><circle cx="1148.10" cy="172.80" r="0.45" fill="#bdbdbd"/><circle cx="1148.10" cy="174.30" r="0.45" fill="#bdbdbd"/><path d="M1153.80 346.90 v2.4 h-2.4 z" fill="#777"/></svg>
<h3 style="transform:translate(0.20px,4.08px) rotate(0.07deg)">Natural Gas Consumption over time</h3>
</div>
<div class="panel" id="p-sec2" style="left:5px;top:356px;width:1150px;height:33px">
<svg width="1150" height="33" viewBox="5 356 1150 33"><rect x="5.5" y="356.5" width="1149.50" height="31.70" rx="1.2" fill="#fff" filter="url(#sh)"/><text transform="translate(448.10 380.60) rotate(0.08)" font-size="9.3" fill="#333333" letter-spacing="0.12" text-anchor="start" font-weight="bold">Equipment Energy Consumption and Performance Metrics</text><path d="M1137.20 361.00 h4.8 l-1.9 2.3 v2.3 l-1 -0.7 v-1.6 z" fill="none" stroke="#c4c4c4" stroke-width="0.5"/><circle cx="1148.10" cy="361.70" r="0.45" fill="#bdbdbd"/><circle cx="1148.10" cy="363.20" r="0.45" fill="#bdbdbd"/><circle cx="1148.10" cy="364.70" r="0.45" fill="#bdbdbd"/><path d="M1153.80 384.60 v2.4 h-2.4 z" fill="#777"/></svg>
<h3 style="transform:translate(0.00px,3.07px) rotate(0.07deg)">Section 2: Equipment Energy Details</h3>
</div>
<div class="panel" id="p-top20" style="left:5px;top:394px;width:380px;height:183px">
<svg width="380" height="183" viewBox="5 394 380 183"><rect x="5.5" y="394" width="379.50" height="183.00" rx="1.2" fill="#fff" filter="url(#sh)"/><line x1="43.00" y1="516.96" x2="325.50" y2="516.96" stroke="#f6f6f6" stroke-width="0.6"/><text transform="translate(38.80 518.46) rotate(0.08)" font-size="3.95" fill="#8f8f8f" letter-spacing="0.18" text-anchor="end" font-weight="normal" >0</text><line x1="43.00" y1="495.26" x2="325.50" y2="495.26" stroke="#f6f6f6" stroke-width="0.6"/><text transform="translate(38.80 496.76) rotate(0.08)" font-size="3.95" fill="#8f8f8f" letter-spacing="0.18" text-anchor="end" font-weight="normal" >2,500,000</text><line x1="43.00" y1="473.56" x2="325.50" y2="473.56" stroke="#f6f6f6" stroke-width="0.6"/><text transform="translate(38.80 475.06) rotate(0.08)" font-size="3.95" fill="#8f8f8f" letter-spacing="0.18" text-anchor="end" font-weight="normal" >5,000,000</text><line x1="43.00" y1="451.86" x2="325.50" y2="451.86" stroke="#f6f6f6" stroke-width="0.6"/><text transform="translate(38.80 453.36) rotate(0.08)" font-size="3.95" fill="#8f8f8f" letter-spacing="0.18" text-anchor="end" font-weight="normal" >7,500,000</text><line x1="43.00" y1="430.16" x2="325.50" y2="430.16" stroke="#f6f6f6" stroke-width="0.6"/><text transform="translate(38.80 431.66) rotate(0.08)" font-size="3.95" fill="#8f8f8f" letter-spacing="0.18" text-anchor="end" font-weight="normal" >10,000,000</text><line x1="43.00" y1="408.46" x2="325.50" y2="408.46" stroke="#f6f6f6" stroke-width="0.6"/><text transform="translate(38.80 409.96) rotate(0.08)" font-size="3.95" fill="#8f8f8f" letter-spacing="0.18" text-anchor="end" font-weight="normal" >12,500,000</text><line x1="43.00" y1="408.46" x2="43.00" y2="516.96" stroke="#f6f6f6" stroke-width="0.6"/><line x1="57.12" y1="408.46" x2="57.12" y2="516.96" stroke="#f6f6f6" stroke-width="0.6"/><line x1="71.25" y1="408.46" x2="71.25" y2="516.96" stroke="#f6f6f6" stroke-width="0.6"/><line x1="85.38" y1="408.46" x2="85.38" y2="516.96" stroke="#f6f6f6" stroke-width="0.6"/><line x1="99.50" y1="408.46" x2="99.50" y2="516.96" stroke="#f6f6f6" stroke-width="0.6"/><line x1="113.62" y1="408.46" x2="113.62" y2="516.96" stroke="#f6f6f6" stroke-width="0.6"/><line x1="127.75" y1="408.46" x2="127.75" y2="516.96" stroke="#f6f6f6" stroke-width="0.6"/><line x1="141.88" y1="408.46" x2="141.88" y2="516.96" stroke="#f6f6f6" stroke-width="0.6"/><line x1="156.00" y1="408.46" x2="156.00" y2="516.96" stroke="#f6f6f6" stroke-width="0.6"/><line x1="170.12" y1="408.46" x2="170.12" y2="516.96" stroke="#f6f6f6" stroke-width="0.6"/><line x1="184.25" y1="408.46" x2="184.25" y2="516.96" stroke="#f6f6f6" stroke-width="0.6"/><line x1="198.38" y1="408.46" x2="198.38" y2="516.96" stroke="#f6f6f6" stroke-width="0.6"/><line x1="212.50" y1="408.46" x2="212.50" y2="516.96" stroke="#f6f6f6" stroke-width="0.6"/><line x1="226.62" y1="408.46" x2="226.62" y2="516.96" stroke="#f6f6f6" stroke-width="0.6"/><line x1="240.75" y1="408.46" x2="240.75" y2="516.96" stroke="#f6f6f6" stroke-width="0.6"/><line x1="254.88" y1="408.46" x2="254.88" y2="516.96" stroke="#f6f6f6" stroke-width="0.6"/><line x1="269.00" y1="408.46" x2="269.00" y2="516.96" stroke="#f6f6f6" stroke-width="0.6"/><line x1="283.12" y1="408.46" x2="283.12" y2="516.96" stroke="#f6f6f6" stroke-width="0.6"/><line x1="297.25" y1="408.46" x2="297.25" y2="516.96" stroke="#f6f6f6" stroke-width="0.6"/><line x1="311.38" y1="408.46" x2="311.38" y2="516.96" stroke="#f6f6f6" stroke-width="0.6"/><line x1="325.50" y1="408.46" x2="325.50" y2="516.96" stroke="#f6f6f6" stroke-width="0.6"/><rect x="48.20" y="515.73" width="6.30" height="1.23" fill="#7cc3cf" /><rect x="48.20" y="431.02" width="6.30" height="84.71" fill="#88144e" /><rect x="48.20" y="430.32" width="6.30" height="0.70" fill="#184699" /><text x="0.00" y="0.00" font-size="3.98" fill="#8f8f8f" letter-spacing="0.18" text-anchor="end" font-weight="normal" transform="translate(52.25 521.86) rotate(-45)">Boiler 3 (Somerville)</text><rect x="62.19" y="515.73" width="6.30" height="1.23" fill="#7cc3cf" /><rect x="62.19" y="472.06" width="6.30" height="43.67" fill="#88144e" /><rect x="62.19" y="471.36" width="6.30" height="0.70" fill="#184699" /><text x="0.00" y="0.00" font-size="3.98" fill="#8f8f8f" letter-spacing="0.18" text-anchor="end" font-weight="normal" transform="translate(66.24 521.86) rotate(-45)">Boiler 2 (Somerville)</text><rect x="76.18" y="515.73" width="6.30" height="1.23" fill="#7cc3cf" /><rect x="76.18" y="481.18" width="6.30" height="34.55" fill="#88144e" /><rect x="76.18" y="480.48" width="6.30" height="0.70" fill="#184699" /><text x="0.00" y="0.00" font-size="3.98" fill="#8f8f8f" letter-spacing="0.18" text-anchor="end" font-weight="normal" transform="translate(80.23 521.86) rotate(-45)">Boiler 4 (Somerville)</text><rect x="90.18" y="515.73" width="6.30" height="1.23" fill="#7cc3cf" /><rect x="90.18" y="505.38" width="6.30" height="10.35" fill="#88144e" /><rect x="90.18" y="484.34" width="6.30" height="21.05" fill="#184699" /><text x="0.00" y="0.00" font-size="3.98" fill="#8f8f8f" letter-spacing="0.18" text-anchor="end" font-weight="normal" transform="translate(94.23 521.86) rotate(-45)">Bldg2_AHU-1 (South Boston)</text><rect x="104.17" y="515.73" width="6.30" height="1.23" fill="#7cc3cf" /><rect x="104.17" y="500.82" width="6.30" height="14.91" fill="#88144e" /><rect x="104.17" y="495.21" width="6.30" height="5.61" fill="#184699" /><text x="0.00" y="0.00" font-size="3.98" fill="#8f8f8f" letter-spacing="0.18" text-anchor="end" font-weight="normal" transform="translate(108.22 521.86) rotate(-45)">AHU-7 (Farnham)</text><rect x="118.16" y="515.73" width="6.30" height="1.23" fill="#7cc3cf" /><rect x="118.16" y="501.53" width="6.30" height="14.21" fill="#88144e" /><rect x="118.16" y="495.56" width="6.30" height="5.96" fill="#184699" /><text x="0.00" y="0.00" font-size="3.98" fill="#8f8f8f" letter-spacing="0.18" text-anchor="end" font-weight="normal" transform="translate(122.21 521.86) rotate(-45)">AHU-7 (Sydney)</text><rect x="132.15" y="515.73" width="6.30" height="1.23" fill="#7cc3cf" /><rect x="132.15" y="500.82" width="6.30" height="14.91" fill="#88144e" /><rect x="132.15" y="495.56" width="6.30" height="5.26" fill="#184699" /><text x="0.00" y="0.00" font-size="3.98" fill="#8f8f8f" letter-spacing="0.18" text-anchor="end" font-weight="normal" transform="translate(136.20 521.86) rotate(-45)">AHU-3 (Inman)</text><rect x="146.14" y="515.73" width="6.30" height="1.23" fill="#7cc3cf" /><rect x="146.14" y="502.93" width="6.30" height="12.80" fill="#184699" /><text x="0.00" y="0.00" font-size="3.98" fill="#8f8f8f" letter-spacing="0.18" text-anchor="end" font-weight="normal" transform="translate(150.19 521.86) rotate(-45)">Chiller 1 (Inman)</text><rect x="160.14" y="515.73" width="6.30" height="1.23" fill="#7cc3cf" /><rect x="160.14" y="504.68" width="6.30" height="11.05" fill="#184699" /><text x="0.00" y="0.00" font-size="3.98" fill="#8f8f8f" letter-spacing="0.18" text-anchor="end" font-weight="normal" transform="translate(164.19 521.86) rotate(-45)">AHU-2 (Inman)</text><rect x="174.13" y="515.73" width="6.30" height="1.23" fill="#7cc3cf" /><rect x="174.13" y="505.03" width="6.30" height="10.70" fill="#88144e" /><rect x="174.13" y="504.33" width="6.30" height="0.70" fill="#184699" /><text x="0.00" y="0.00" font-size="3.98" fill="#8f8f8f" letter-spacing="0.18" text-anchor="end" font-weight="normal" transform="translate(178.18 521.86) rotate(-45)">AHU-7 (Paris)</text><rect x="188.12" y="515.73" width="6.30" height="1.23" fill="#7cc3cf" /><rect x="188.12" y="509.94" width="6.30" height="5.79" fill="#88144e" /><rect x="188.12" y="507.14" width="6.30" height="2.81" fill="#184699" /><text x="0.00" y="0.00" font-size="3.98" fill="#8f8f8f" letter-spacing="0.18" text-anchor="end" font-weight="normal" transform="translate(192.17 521.86) rotate(-45)">AHU-8 (Paris)</text><rect x="202.11" y="515.73" width="6.30" height="1.23" fill="#7cc3cf" /><rect x="202.11" y="508.89" width="6.30" height="6.84" fill="#88144e" /><rect x="202.11" y="508.54" width="6.30" height="0.35" fill="#184699" /><text x="0.00" y="0.00" font-size="3.98" fill="#8f8f8f" letter-spacing="0.18" text-anchor="end" font-weight="normal" transform="translate(206.16 521.86) rotate(-45)">AHU-8 (Sydney)</text><rect x="216.11" y="515.73" width="6.30" height="1.23" fill="#7cc3cf" /><rect x="216.11" y="508.89" width="6.30" height="6.84" fill="#184699" /><text x="0.00" y="0.00" font-size="3.98" fill="#8f8f8f" letter-spacing="0.18" text-anchor="end" font-weight="normal" transform="translate(220.16 521.86) rotate(-45)">Chiller 1 (Somerville)</text><rect x="230.10" y="515.73" width="6.30" height="1.23" fill="#7cc3cf" /><rect x="230.10" y="509.59" width="6.30" height="6.14" fill="#88144e" /><rect x="230.10" y="508.89" width="6.30" height="0.70" fill="#184699" /><text x="0.00" y="0.00" font-size="3.98" fill="#8f8f8f" letter-spacing="0.18" text-anchor="end" font-weight="normal" transform="translate(234.15 521.86) rotate(-45)">Bldg4_AHU-3 Pre Cond (Brookline)</text><rect x="244.09" y="515.73" width="6.30" height="1.23" fill="#7cc3cf" /><rect x="244.09" y="509.24" width="6.30" height="6.49" fill="#184699" /><text x="0.00" y="0.00" font-size="3.98" fill="#8f8f8f" letter-spacing="0.18" text-anchor="end" font-weight="normal" transform="translate(248.14 521.86) rotate(-45)">Chiller 3 (Somerville)</text><rect x="258.08" y="515.73" width="6.30" height="1.23" fill="#7cc3cf" /><rect x="258.08" y="511.70" width="6.30" height="4.03" fill="#88144e" /><rect x="258.08" y="511.00" width="6.30" height="0.70" fill="#184699" /><text x="0.00" y="0.00" font-size="3.98" fill="#8f8f8f" letter-spacing="0.18" text-anchor="end" font-weight="normal" transform="translate(262.13 521.86) rotate(-45)">AHU-8 (Farnham)</text><rect x="272.07" y="515.73" width="6.30" height="1.23" fill="#7cc3cf" /><rect x="272.07" y="511.70" width="6.30" height="4.03" fill="#184699" /><text x="0.00" y="0.00" font-size="3.98" fill="#8f8f8f" letter-spacing="0.18" text-anchor="end" font-weight="normal" transform="translate(276.12 521.86) rotate(-45)">AHU-5 (Inman)</text><rect x="286.07" y="515.73" width="6.30" height="1.23" fill="#7cc3cf" /><rect x="286.07" y="512.05" width="6.30" height="3.68" fill="#184699" /><text x="0.00" y="0.00" font-size="3.98" fill="#8f8f8f" letter-spacing="0.18" text-anchor="end" font-weight="normal" transform="translate(290.12 521.86) rotate(-45)">AHU-2 (Paris)</text><rect x="300.06" y="515.73" width="6.30" height="1.23" fill="#7cc3cf" /><rect x="300.06" y="512.05" width="6.30" height="3.68" fill="#184699" /><text x="0.00" y="0.00" font-size="3.98" fill="#8f8f8f" letter-spacing="0.18" text-anchor="end" font-weight="normal" transform="translate(304.11 521.86) rotate(-45)">AHU-2 (Sydney)</text><rect x="314.05" y="515.73" width="6.30" height="1.23" fill="#7cc3cf" /><rect x="314.05" y="512.05" width="6.30" height="3.68" fill="#184699" /><text x="0.00" y="0.00" font-size="3.98" fill="#8f8f8f" letter-spacing="0.18" text-anchor="end" font-weight="normal" transform="translate(318.10 521.86) rotate(-45)">AHU-2 (Farnham)</text><text x="0.00" y="0.00" font-size="4.6" fill="#8f8f8f" letter-spacing="0.18" text-anchor="middle" font-weight="normal" transform="translate(14.6 463) rotate(-90.08)">Energy Use</text><circle cx="333.4" cy="485.40" r="1.9" fill="#184699"/><text transform="translate(338.50 486.95) rotate(0.08)" font-size="4.37" fill="#333333" letter-spacing="0.18" text-anchor="start" font-weight="bold" >Cooling (kBtu)</text><circle cx="333.4" cy="490.35" r="1.9" fill="#88144e"/><text transform="translate(338.50 491.90) rotate(0.08)" font-size="4.37" fill="#333333" letter-spacing="0.18" text-anchor="start" font-weight="bold" >Heating (kBtu)</text><circle cx="333.4" cy="495.30" r="1.9" fill="#37a9b3"/><text transform="translate(338.50 496.85) rotate(0.08)" font-size="4.37" fill="#333333" letter-spacing="0.18" text-anchor="start" font-weight="bold" >Electric (kBtu)</text><rect x="374.50" y="410.15" width="6.20" height="1.30" fill="#8a8a8a" /><rect x="374.50" y="411.95" width="6.20" height="1.30" fill="#8a8a8a" /><rect x="374.50" y="413.75" width="6.20" height="1.30" fill="#8a8a8a" /><path d="M365.40 396.30 h4.8 l-1.9 2.3 v2.3 l-1 -0.7 v-1.6 z" fill="#555"/><text transform="translate(371.70 399.90) rotate(0.08)" font-size="3.54" fill="#b5b5b5" letter-spacing="0.18" text-anchor="middle" font-weight="normal" >1</text><circle cx="379.10" cy="397.00" r="0.45" fill="#bdbdbd"/><circle cx="379.10" cy="398.50" r="0.45" fill="#bdbdbd"/><circle cx="379.10" cy="400.00" r="0.45" fill="#bdbdbd"/><path d="M383.80 573.40 v2.4 h-2.4 z" fill="#777"/></svg>
<h3 style="font-size:6.02px;transform:translate(0.00px,3.52px) rotate(0.07deg)">Top 20 Equip Energy Use (Past 30 Days)</h3>
</div>
<div class="panel" id="p-equip" style="left:391px;top:394px;width:764px;height:183px">
<svg width="764" height="183" viewBox="391 394 764 183"><rect x="391" y="394" width="764.00" height="183.00" rx="1.2" fill="#fff" filter="url(#sh)"/><line x1="425.50" y1="563.61" x2="1092.70" y2="563.61" stroke="#f6f6f6" stroke-width="0.6"/><text transform="translate(421.80 565.11) rotate(0.08)" font-size="4.13" fill="#8f8f8f" letter-spacing="0.18" text-anchor="end" font-weight="normal" >0</text><line x1="425.50" y1="546.41" x2="1092.70" y2="546.41" stroke="#f6f6f6" stroke-width="0.6"/><text transform="translate(421.80 547.91) rotate(0.08)" font-size="4.13" fill="#8f8f8f" letter-spacing="0.18" text-anchor="end" font-weight="normal" >250,000</text><line x1="425.50" y1="529.21" x2="1092.70" y2="529.21" stroke="#f6f6f6" stroke-width="0.6"/><text transform="translate(421.80 530.71) rotate(0.08)" font-size="4.13" fill="#8f8f8f" letter-spacing="0.18" text-anchor="end" font-weight="normal" >500,000</text><line x1="425.50" y1="512.01" x2="1092.70" y2="512.01" stroke="#f6f6f6" stroke-width="0.6"/><text transform="translate(421.80 513.51) rotate(0.08)" font-size="4.13" fill="#8f8f8f" letter-spacing="0.18" text-anchor="end" font-weight="normal" >750,000</text><line x1="425.50" y1="494.81" x2="1092.70" y2="494.81" stroke="#f6f6f6" stroke-width="0.6"/><text transform="translate(421.80 496.31) rotate(0.08)" font-size="4.13" fill="#8f8f8f" letter-spacing="0.18" text-anchor="end" font-weight="normal" >1,000,000</text><line x1="425.50" y1="477.61" x2="1092.70" y2="477.61" stroke="#f6f6f6" stroke-width="0.6"/><text transform="translate(421.80 479.11) rotate(0.08)" font-size="4.13" fill="#8f8f8f" letter-spacing="0.18" text-anchor="end" font-weight="normal" >1,250,000</text><line x1="425.50" y1="460.41" x2="1092.70" y2="460.41" stroke="#f6f6f6" stroke-width="0.6"/><text transform="translate(421.80 461.91) rotate(0.08)" font-size="4.13" fill="#8f8f8f" letter-spacing="0.18" text-anchor="end" font-weight="normal" >1,500,000</text><line x1="425.50" y1="443.21" x2="1092.70" y2="443.21" stroke="#f6f6f6" stroke-width="0.6"/><text transform="translate(421.80 444.71) rotate(0.08)" font-size="4.13" fill="#8f8f8f" letter-spacing="0.18" text-anchor="end" font-weight="normal" >1,750,000</text><line x1="425.50" y1="426.01" x2="1092.70" y2="426.01" stroke="#f6f6f6" stroke-width="0.6"/><text transform="translate(421.80 427.51) rotate(0.08)" font-size="4.13" fill="#8f8f8f" letter-spacing="0.18" text-anchor="end" font-weight="normal" >2,000,000</text><line x1="425.50" y1="408.81" x2="1092.70" y2="408.81" stroke="#f6f6f6" stroke-width="0.6"/><text transform="translate(421.80 410.31) rotate(0.08)" font-size="4.13" fill="#8f8f8f" letter-spacing="0.18" text-anchor="end" font-weight="normal" >2,250,000</text><line x1="443.90" y1="408.81" x2="443.90" y2="563.61" stroke="#f6f6f6" stroke-width="0.6"/><line x1="486.12" y1="408.81" x2="486.12" y2="563.61" stroke="#f6f6f6" stroke-width="0.6"/><line x1="528.34" y1="408.81" x2="528.34" y2="563.61" stroke="#f6f6f6" stroke-width="0.6"/><line x1="570.56" y1="408.81" x2="570.56" y2="563.61" stroke="#f6f6f6" stroke-width="0.6"/><line x1="612.78" y1="408.81" x2="612.78" y2="563.61" stroke="#f6f6f6" stroke-width="0.6"/><line x1="655.00" y1="408.81" x2="655.00" y2="563.61" stroke="#f6f6f6" stroke-width="0.6"/><line x1="697.22" y1="408.81" x2="697.22" y2="563.61" stroke="#f6f6f6" stroke-width="0.6"/><line x1="739.44" y1="408.81" x2="739.44" y2="563.61" stroke="#f6f6f6" stroke-width="0.6"/><line x1="781.66" y1="408.81" x2="781.66" y2="563.61" stroke="#f6f6f6" stroke-width="0.6"/><line x1="823.88" y1="408.81" x2="823.88" y2="563.61" stroke="#f6f6f6" stroke-width="0.6"/><line x1="866.10" y1="408.81" x2="866.10" y2="563.61" stroke="#f6f6f6" stroke-width="0.6"/><line x1="908.32" y1="408.81" x2="908.32" y2="563.61" stroke="#f6f6f6" stroke-width="0.6"/><line x1="950.54" y1="408.81" x2="950.54" y2="563.61" stroke="#f6f6f6" stroke-width="0.6"/><line x1="992.76" y1="408.81" x2="992.76" y2="563.61" stroke="#f6f6f6" stroke-width="0.6"/><line x1="1034.98" y1="408.81" x2="1034.98" y2="563.61" stroke="#f6f6f6" stroke-width="0.6"/><line x1="1077.20" y1="408.81" x2="1077.20" y2="563.61" stroke="#f6f6f6" stroke-width="0.6"/><rect x="438.95" y="556.24" width="9.90" height="7.37" fill="#37a9b3" /><rect x="438.95" y="493.11" width="9.90" height="63.14" fill="#88144e" stroke="#ffffff" stroke-opacity="0.35" stroke-width="0.4"/><rect x="438.95" y="465.75" width="9.90" height="27.36" fill="#184699" stroke="#ffffff" stroke-opacity="0.35" stroke-width="0.4"/><rect x="460.06" y="555.54" width="9.90" height="8.07" fill="#37a9b3" /><rect x="460.06" y="483.29" width="9.90" height="72.26" fill="#88144e" stroke="#ffffff" stroke-opacity="0.35" stroke-width="0.4"/><rect x="460.06" y="456.98" width="9.90" height="26.31" fill="#184699" stroke="#ffffff" stroke-opacity="0.35" stroke-width="0.4"/><rect x="481.17" y="555.19" width="9.90" height="8.42" fill="#37a9b3" /><rect x="481.17" y="473.47" width="9.90" height="81.73" fill="#88144e" stroke="#ffffff" stroke-opacity="0.35" stroke-width="0.4"/><rect x="481.17" y="444.35" width="9.90" height="29.11" fill="#184699" stroke="#ffffff" stroke-opacity="0.35" stroke-width="0.4"/><rect x="502.28" y="554.84" width="9.90" height="8.77" fill="#37a9b3" /><rect x="502.28" y="468.55" width="9.90" height="86.29" fill="#88144e" stroke="#ffffff" stroke-opacity="0.35" stroke-width="0.4"/><rect x="502.28" y="441.20" width="9.90" height="27.36" fill="#184699" stroke="#ffffff" stroke-opacity="0.35" stroke-width="0.4"/><rect x="523.39" y="556.59" width="9.90" height="7.02" fill="#37a9b3" /><rect x="523.39" y="485.04" width="9.90" height="71.55" fill="#88144e" stroke="#ffffff" stroke-opacity="0.35" stroke-width="0.4"/><rect x="523.39" y="463.64" width="9.90" height="21.40" fill="#184699" stroke="#ffffff" stroke-opacity="0.35" stroke-width="0.4"/><rect x="544.50" y="556.59" width="9.90" height="7.02" fill="#37a9b3" /><rect x="544.50" y="528.88" width="9.90" height="27.71" fill="#88144e" stroke="#ffffff" stroke-opacity="0.35" stroke-width="0.4"/><rect x="544.50" y="510.29" width="9.90" height="18.59" fill="#184699" stroke="#ffffff" stroke-opacity="0.35" stroke-width="0.4"/><rect x="565.61" y="555.89" width="9.90" height="7.72" fill="#37a9b3" /><rect x="565.61" y="469.96" width="9.90" height="85.93" fill="#88144e" stroke="#ffffff" stroke-opacity="0.35" stroke-width="0.4"/><rect x="565.61" y="426.46" width="9.90" height="43.49" fill="#184699" stroke="#ffffff" stroke-opacity="0.35" stroke-width="0.4"/><rect x="586.72" y="555.89" width="9.90" height="7.72" fill="#37a9b3" /><rect x="586.72" y="483.64" width="9.90" height="72.26" fill="#88144e" stroke="#ffffff" stroke-opacity="0.35" stroke-width="0.4"/><rect x="586.72" y="445.05" width="9.90" height="38.58" fill="#184699" stroke="#ffffff" stroke-opacity="0.35" stroke-width="0.4"/><rect x="607.83" y="555.54" width="9.90" height="8.07" fill="#37a9b3" /><rect x="607.83" y="477.32" width="9.90" height="78.22" fill="#88144e" stroke="#ffffff" stroke-opacity="0.35" stroke-width="0.4"/><rect x="607.83" y="439.44" width="9.90" height="37.88" fill="#184699" stroke="#ffffff" stroke-opacity="0.35" stroke-width="0.4"/><rect x="628.94" y="555.19" width="9.90" height="8.42" fill="#37a9b3" /><rect x="628.94" y="474.52" width="9.90" height="80.67" fill="#88144e" stroke="#ffffff" stroke-opacity="0.35" stroke-width="0.4"/><rect x="628.94" y="436.29" width="9.90" height="38.23" fill="#184699" stroke="#ffffff" stroke-opacity="0.35" stroke-width="0.4"/><rect x="650.05" y="555.19" width="9.90" height="8.42" fill="#37a9b3" /><rect x="650.05" y="469.61" width="9.90" height="85.58" fill="#88144e" stroke="#ffffff" stroke-opacity="0.35" stroke-width="0.4"/><rect x="650.05" y="429.97" width="9.90" height="39.64" fill="#184699" stroke="#ffffff" stroke-opacity="0.35" stroke-width="0.4"/><rect x="671.16" y="555.19" width="9.90" height="8.42" fill="#37a9b3" /><rect x="671.16" y="468.55" width="9.90" height="86.64" fill="#88144e" stroke="#ffffff" stroke-opacity="0.35" stroke-width="0.4"/><rect x="671.16" y="425.41" width="9.90" height="43.14" fill="#184699" stroke="#ffffff" stroke-opacity="0.35" stroke-width="0.4"/><rect x="692.27" y="554.49" width="9.90" height="9.12" fill="#37a9b3" /><rect x="692.27" y="458.03" width="9.90" height="96.46" fill="#88144e" stroke="#ffffff" stroke-opacity="0.35" stroke-width="0.4"/><rect x="692.27" y="418.05" width="9.90" height="39.99" fill="#184699" stroke="#ffffff" stroke-opacity="0.35" stroke-width="0.4"/><rect x="713.38" y="555.89" width="9.90" height="7.72" fill="#37a9b3" /><rect x="713.38" y="471.36" width="9.90" height="84.53" fill="#88144e" stroke="#ffffff" stroke-opacity="0.35" stroke-width="0.4"/><rect x="713.38" y="435.93" width="9.90" height="35.43" fill="#184699" stroke="#ffffff" stroke-opacity="0.35" stroke-width="0.4"/><rect x="734.49" y="556.59" width="9.90" height="7.02" fill="#37a9b3" /><rect x="734.49" y="480.83" width="9.90" height="75.76" fill="#88144e" stroke="#ffffff" stroke-opacity="0.35" stroke-width="0.4"/><rect x="734.49" y="449.61" width="9.90" height="31.22" fill="#184699" stroke="#ffffff" stroke-opacity="0.35" stroke-width="0.4"/><rect x="755.60" y="555.54" width="9.90" height="8.07" fill="#37a9b3" /><rect x="755.60" y="517.66" width="9.90" height="37.88" fill="#88144e" stroke="#ffffff" stroke-opacity="0.35" stroke-width="0.4"/><rect x="755.60" y="482.59" width="9.90" height="35.08" fill="#184699" stroke="#ffffff" stroke-opacity="0.35" stroke-width="0.4"/><rect x="776.71" y="555.54" width="9.90" height="8.07" fill="#37a9b3" /><rect x="776.71" y="476.97" width="9.90" height="78.57" fill="#88144e" stroke="#ffffff" stroke-opacity="0.35" stroke-width="0.4"/><rect x="776.71" y="440.49" width="9.90" height="36.48" fill="#184699" stroke="#ffffff" stroke-opacity="0.35" stroke-width="0.4"/><rect x="797.82" y="555.19" width="9.90" height="8.42" fill="#37a9b3" /><rect x="797.82" y="464.00" width="9.90" height="91.20" fill="#88144e" stroke="#ffffff" stroke-opacity="0.35" stroke-width="0.4"/><rect x="797.82" y="427.17" width="9.90" height="36.83" fill="#184699" stroke="#ffffff" stroke-opacity="0.35" stroke-width="0.4"/><rect x="818.93" y="554.84" width="9.90" height="8.77" fill="#37a9b3" /><rect x="818.93" y="475.22" width="9.90" height="79.62" fill="#88144e" stroke="#ffffff" stroke-opacity="0.35" stroke-width="0.4"/><rect x="818.93" y="439.44" width="9.90" height="35.78" fill="#184699" stroke="#ffffff" stroke-opacity="0.35" stroke-width="0.4"/><rect x="840.04" y="555.89" width="9.90" height="7.72" fill="#37a9b3" /><rect x="840.04" y="482.59" width="9.90" height="73.31" fill="#88144e" stroke="#ffffff" stroke-opacity="0.35" stroke-width="0.4"/><rect x="840.04" y="445.76" width="9.90" height="36.83" fill="#184699" stroke="#ffffff" stroke-opacity="0.35" stroke-width="0.4"/><rect x="861.15" y="555.89" width="9.90" height="7.72" fill="#37a9b3" /><rect x="861.15" y="485.04" width="9.90" height="70.85" fill="#88144e" stroke="#ffffff" stroke-opacity="0.35" stroke-width="0.4"/><rect x="861.15" y="444.70" width="9.90" height="40.34" fill="#184699" stroke="#ffffff" stroke-opacity="0.35" stroke-width="0.4"/><rect x="882.26" y="556.24" width="9.90" height="7.37" fill="#37a9b3" /><rect x="882.26" y="485.39" width="9.90" height="70.85" fill="#88144e" stroke="#ffffff" stroke-opacity="0.35" stroke-width="0.4"/><rect x="882.26" y="444.00" width="9.90" height="41.39" fill="#184699" stroke="#ffffff" stroke-opacity="0.35" stroke-width="0.4"/><rect x="903.37" y="556.24" width="9.90" height="7.37" fill="#37a9b3" /><rect x="903.37" y="516.61" width="9.90" height="39.64" fill="#88144e" stroke="#ffffff" stroke-opacity="0.35" stroke-width="0.4"/><rect x="903.37" y="475.22" width="9.90" height="41.39" fill="#184699" stroke="#ffffff" stroke-opacity="0.35" stroke-width="0.4"/><rect x="924.48" y="554.84" width="9.90" height="8.77" fill="#37a9b3" /><rect x="924.48" y="521.87" width="9.90" height="32.97" fill="#88144e" stroke="#ffffff" stroke-opacity="0.35" stroke-width="0.4"/><rect x="924.48" y="483.99" width="9.90" height="37.88" fill="#184699" stroke="#ffffff" stroke-opacity="0.35" stroke-width="0.4"/><rect x="945.59" y="554.84" width="9.90" height="8.77" fill="#37a9b3" /><rect x="945.59" y="485.74" width="9.90" height="69.10" fill="#88144e" stroke="#ffffff" stroke-opacity="0.35" stroke-width="0.4"/><rect x="945.59" y="452.42" width="9.90" height="33.32" fill="#184699" stroke="#ffffff" stroke-opacity="0.35" stroke-width="0.4"/><rect x="966.70" y="554.84" width="9.90" height="8.77" fill="#37a9b3" /><rect x="966.70" y="474.17" width="9.90" height="80.67" fill="#88144e" stroke="#ffffff" stroke-opacity="0.35" stroke-width="0.4"/><rect x="966.70" y="442.25" width="9.90" height="31.92" fill="#184699" stroke="#ffffff" stroke-opacity="0.35" stroke-width="0.4"/><rect x="987.81" y="554.84" width="9.90" height="8.77" fill="#37a9b3" /><rect x="987.81" y="460.84" width="9.90" height="94.00" fill="#88144e" stroke="#ffffff" stroke-opacity="0.35" stroke-width="0.4"/><rect x="987.81" y="428.57" width="9.90" height="32.27" fill="#184699" stroke="#ffffff" stroke-opacity="0.35" stroke-width="0.4"/><rect x="1008.92" y="555.89" width="9.90" height="7.72" fill="#37a9b3" /><rect x="1008.92" y="469.61" width="9.90" height="86.29" fill="#88144e" stroke="#ffffff" stroke-opacity="0.35" stroke-width="0.4"/><rect x="1008.92" y="440.85" width="9.90" height="28.76" fill="#184699" stroke="#ffffff" stroke-opacity="0.35" stroke-width="0.4"/><rect x="1030.03" y="556.94" width="9.90" height="6.66" fill="#37a9b3" /><rect x="1030.03" y="475.57" width="9.90" height="81.37" fill="#88144e" stroke="#ffffff" stroke-opacity="0.35" stroke-width="0.4"/><rect x="1030.03" y="447.86" width="9.90" height="27.71" fill="#184699" stroke="#ffffff" stroke-opacity="0.35" stroke-width="0.4"/><rect x="1051.14" y="555.89" width="9.90" height="7.72" fill="#37a9b3" /><rect x="1051.14" y="481.53" width="9.90" height="74.36" fill="#88144e" stroke="#ffffff" stroke-opacity="0.35" stroke-width="0.4"/><rect x="1051.14" y="452.77" width="9.90" height="28.76" fill="#184699" stroke="#ffffff" stroke-opacity="0.35" stroke-width="0.4"/><rect x="1072.25" y="562.91" width="9.90" height="0.70" fill="#b0b0b0" /><text transform="translate(443.90 571.00) rotate(0.08)" font-size="3.66" fill="#8f8f8f" letter-spacing="0.18" text-anchor="middle" font-weight="normal" >1/1/2024</text><text transform="translate(486.12 571.00) rotate(0.08)" font-size="3.66" fill="#8f8f8f" letter-spacing="0.18" text-anchor="middle" font-weight="normal" >1/3/2024</text><text transform="translate(528.34 571.00) rotate(0.08)" font-size="3.66" fill="#8f8f8f" letter-spacing="0.18" text-anchor="middle" font-weight="normal" >1/5/2024</text><text transform="translate(570.56 571.00) rotate(0.08)" font-size="3.66" fill="#8f8f8f" letter-spacing="0.18" text-anchor="middle" font-weight="normal" >1/7/2024</text><text transform="translate(612.78 571.00) rotate(0.08)" font-size="3.66" fill="#8f8f8f" letter-spacing="0.18" text-anchor="middle" font-weight="normal" >1/9/2024</text><text transform="translate(655.00 571.00) rotate(0.08)" font-size="3.66" fill="#8f8f8f" letter-spacing="0.18" text-anchor="middle" font-weight="normal" >1/11/2024</text><text transform="translate(697.22 571.00) rotate(0.08)" font-size="3.66" fill="#8f8f8f" letter-spacing="0.18" text-anchor="middle" font-weight="normal" >1/13/2024</text><text transform="translate(739.44 571.00) rotate(0.08)" font-size="3.66" fill="#8f8f8f" letter-spacing="0.18" text-anchor="middle" font-weight="normal" >1/15/2024</text><text transform="translate(781.66 571.00) rotate(0.08)" font-size="3.66" fill="#8f8f8f" letter-spacing="0.18" text-anchor="middle" font-weight="normal" >1/17/2024</text><text transform="translate(823.88 571.00) rotate(0.08)" font-size="3.66" fill="#8f8f8f" letter-spacing="0.18" text-anchor="middle" font-weight="normal" >1/19/2024</text><text transform="translate(866.10 571.00) rotate(0.08)" font-size="3.66" fill="#8f8f8f" letter-spacing="0.18" text-anchor="middle" font-weight="normal" >1/21/2024</text><text transform="translate(908.32 571.00) rotate(0.08)" font-size="3.66" fill="#8f8f8f" letter-spacing="0.18" text-anchor="middle" font-weight="normal" >1/23/2024</text><text transform="translate(950.54 571.00) rotate(0.08)" font-size="3.66" fill="#8f8f8f" letter-spacing="0.18" text-anchor="middle" font-weight="normal" >1/25/2024</text><text transform="translate(992.76 571.00) rotate(0.08)" font-size="3.66" fill="#8f8f8f" letter-spacing="0.18" text-anchor="middle" font-weight="normal" >1/27/2024</text><text transform="translate(1034.98 571.00) rotate(0.08)" font-size="3.66" fill="#8f8f8f" letter-spacing="0.18" text-anchor="middle" font-weight="normal" >1/29/2024</text><text transform="translate(1077.20 571.00) rotate(0.08)" font-size="3.66" fill="#8f8f8f" letter-spacing="0.18" text-anchor="middle" font-weight="normal" >1/31/2024</text><text x="0.00" y="0.00" font-size="4.6" fill="#8f8f8f" letter-spacing="0.18" text-anchor="middle" font-weight="normal" transform="translate(399.3 490) rotate(-90.08)">Energy Use</text><circle cx="1104.1" cy="485.40" r="1.9" fill="#184699"/><text transform="translate(1109.20 486.95) rotate(0.08)" font-size="4.37" fill="#333333" letter-spacing="0.18" text-anchor="start" font-weight="bold" >Cooling (kBtu)</text><circle cx="1104.1" cy="490.35" r="1.9" fill="#88144e"/><text transform="translate(1109.20 491.90) rotate(0.08)" font-size="4.37" fill="#333333" letter-spacing="0.18" text-anchor="start" font-weight="bold" >Heating (kBtu)</text><circle cx="1104.1" cy="495.30" r="1.9" fill="#37a9b3"/><text transform="translate(1109.20 496.85) rotate(0.08)" font-size="4.37" fill="#333333" letter-spacing="0.18" text-anchor="start" font-weight="bold" >Electric (kBtu)</text><rect x="1144.50" y="410.15" width="6.20" height="1.30" fill="#8a8a8a" /><rect x="1144.50" y="411.95" width="6.20" height="1.30" fill="#8a8a8a" /><rect x="1144.50" y="413.75" width="6.20" height="1.30" fill="#8a8a8a" /><path d="M1134.40 396.30 h4.8 l-1.9 2.3 v2.3 l-1 -0.7 v-1.6 z" fill="#555"/><text transform="translate(1140.70 399.90) rotate(0.08)" font-size="3.54" fill="#b5b5b5" letter-spacing="0.18" text-anchor="middle" font-weight="normal" >1</text><circle cx="1148.10" cy="397.00" r="0.45" fill="#bdbdbd"/><circle cx="1148.10" cy="398.50" r="0.45" fill="#bdbdbd"/><circle cx="1148.10" cy="400.00" r="0.45" fill="#bdbdbd"/><path d="M1153.80 573.40 v2.4 h-2.4 z" fill="#777"/></svg>
<h3 style="transform:translate(-0.80px,2.49px) rotate(0.07deg)">Equipment Heating, Cooling, and Electric Use</h3>
</div>
<div class="panel" id="p-heat" style="left:5px;top:582px;width:380px;height:71px">
<svg width="380" height="71" viewBox="5 582 380 71"><rect x="5.5" y="582.6" width="379.50" height="69.60" rx="1.2" fill="#fff" filter="url(#sh)"/><line x1="28.50" y1="639.50" x2="382.00" y2="639.50" stroke="#f6f6f6" stroke-width="0.6"/><text transform="translate(25.00 640.30) rotate(0.08)" font-size="4.01" fill="#8f8f8f" letter-spacing="0.18" text-anchor="end" font-weight="normal" >0</text><line x1="28.50" y1="618.50" x2="382.00" y2="618.50" stroke="#f6f6f6" stroke-width="0.6"/><text transform="translate(25.00 619.30) rotate(0.08)" font-size="4.01" fill="#8f8f8f" letter-spacing="0.18" text-anchor="end" font-weight="normal" >0.25</text><line x1="28.50" y1="597.50" x2="382.00" y2="597.50" stroke="#f6f6f6" stroke-width="0.6"/><text transform="translate(25.00 598.30) rotate(0.08)" font-size="4.01" fill="#8f8f8f" letter-spacing="0.18" text-anchor="end" font-weight="normal" >0.5</text><rect x="122.00" y="599.50" width="168.00" height="40.00" fill="#184699" /><text transform="translate(206.00 646.40) rotate(0.08)" font-size="4.01" fill="#8f8f8f" letter-spacing="0.18" text-anchor="middle" font-weight="normal" >Somerville</text><text x="0.00" y="0.00" font-size="4.01" fill="#8f8f8f" letter-spacing="0.18" text-anchor="middle" font-weight="normal" transform="translate(14 618.5) rotate(-90.08)">Avg</text><rect x="374.20" y="598.25" width="6.20" height="1.30" fill="#8a8a8a" /><rect x="374.20" y="600.05" width="6.20" height="1.30" fill="#8a8a8a" /><rect x="374.20" y="601.85" width="6.20" height="1.30" fill="#8a8a8a" /><path d="M365.40 584.50 h4.8 l-1.9 2.3 v2.3 l-1 -0.7 v-1.6 z" fill="#555"/><text transform="translate(371.70 588.10) rotate(0.08)" font-size="3.54" fill="#b5b5b5" letter-spacing="0.18" text-anchor="middle" font-weight="normal" >1</text><circle cx="379.10" cy="585.20" r="0.45" fill="#bdbdbd"/><circle cx="379.10" cy="586.70" r="0.45" fill="#bdbdbd"/><circle cx="379.10" cy="588.20" r="0.45" fill="#bdbdbd"/><path d="M383.80 648.60 v2.4 h-2.4 z" fill="#777"/></svg>
<h3 style="font-size:6.17px;transform:translate(0.00px,2.87px) rotate(0.07deg)">Building Heating Efficiency</h3>
</div>
<div class="panel" id="p-cool" style="left:391px;top:582px;width:379px;height:71px">
<svg width="379" height="71" viewBox="391 582 379 71"><rect x="391" y="582.6" width="379.00" height="69.60" rx="1.2" fill="#fff" filter="url(#sh)"/><line x1="413.50" y1="639.50" x2="766.00" y2="639.50" stroke="#f6f6f6" stroke-width="0.6"/><text transform="translate(409.00 640.30) rotate(0.08)" font-size="4.01" fill="#8f8f8f" letter-spacing="0.18" text-anchor="end" font-weight="normal" >0</text><line x1="413.50" y1="625.50" x2="766.00" y2="625.50" stroke="#f6f6f6" stroke-width="0.6"/><text transform="translate(409.00 626.30) rotate(0.08)" font-size="4.01" fill="#8f8f8f" letter-spacing="0.18" text-anchor="end" font-weight="normal" >2.5</text><line x1="413.50" y1="611.50" x2="766.00" y2="611.50" stroke="#f6f6f6" stroke-width="0.6"/><text transform="translate(409.00 612.30) rotate(0.08)" font-size="4.01" fill="#8f8f8f" letter-spacing="0.18" text-anchor="end" font-weight="normal" >5</text><line x1="413.50" y1="597.50" x2="766.00" y2="597.50" stroke="#f6f6f6" stroke-width="0.6"/><text transform="translate(409.00 598.30) rotate(0.08)" font-size="4.01" fill="#8f8f8f" letter-spacing="0.18" text-anchor="end" font-weight="normal" >7.5</text><line x1="413.50" y1="597.50" x2="413.50" y2="639.50" stroke="#f6f6f6" stroke-width="0.6"/><line x1="484.00" y1="597.50" x2="484.00" y2="639.50" stroke="#f6f6f6" stroke-width="0.6"/><line x1="554.50" y1="597.50" x2="554.50" y2="639.50" stroke="#f6f6f6" stroke-width="0.6"/><line x1="625.00" y1="597.50" x2="625.00" y2="639.50" stroke="#f6f6f6" stroke-width="0.6"/><line x1="695.50" y1="597.50" x2="695.50" y2="639.50" stroke="#f6f6f6" stroke-width="0.6"/><line x1="766.00" y1="597.50" x2="766.00" y2="639.50" stroke="#f6f6f6" stroke-width="0.6"/><rect x="432.25" y="607.50" width="33.00" height="32.00" fill="#184699" /><text transform="translate(448.75 646.40) rotate(0.08)" font-size="4.01" fill="#8f8f8f" letter-spacing="0.18" text-anchor="middle" font-weight="normal" >Paris</text><rect x="502.75" y="607.50" width="33.00" height="32.00" fill="#184699" /><text transform="translate(519.25 646.40) rotate(0.08)" font-size="4.01" fill="#8f8f8f" letter-spacing="0.18" text-anchor="middle" font-weight="normal" >Sydney</text><rect x="573.25" y="607.50" width="33.00" height="32.00" fill="#184699" /><text transform="translate(589.75 646.40) rotate(0.08)" font-size="4.01" fill="#8f8f8f" letter-spacing="0.18" text-anchor="middle" font-weight="normal" >Farnham</text><rect x="643.75" y="633.50" width="33.00" height="6.00" fill="#184699" /><text transform="translate(660.25 646.40) rotate(0.08)" font-size="4.01" fill="#8f8f8f" letter-spacing="0.18" text-anchor="middle" font-weight="normal" >Somerville</text><rect x="714.25" y="637.00" width="33.00" height="2.50" fill="#184699" /><text transform="translate(730.75 646.40) rotate(0.08)" font-size="4.01" fill="#8f8f8f" letter-spacing="0.18" text-anchor="middle" font-weight="normal" >Inman</text><text x="0.00" y="0.00" font-size="4.01" fill="#8f8f8f" letter-spacing="0.18" text-anchor="middle" font-weight="normal" transform="translate(398.8 618.5) rotate(-90.08)">Avg</text><rect x="759.50" y="598.25" width="6.20" height="1.30" fill="#8a8a8a" /><rect x="759.50" y="600.05" width="6.20" height="1.30" fill="#8a8a8a" /><rect x="759.50" y="601.85" width="6.20" height="1.30" fill="#8a8a8a" /><path d="M749.40 584.50 h4.8 l-1.9 2.3 v2.3 l-1 -0.7 v-1.6 z" fill="#555"/><text transform="translate(755.70 588.10) rotate(0.08)" font-size="3.54" fill="#b5b5b5" letter-spacing="0.18" text-anchor="middle" font-weight="normal" >1</text><circle cx="763.10" cy="585.20" r="0.45" fill="#bdbdbd"/><circle cx="763.10" cy="586.70" r="0.45" fill="#bdbdbd"/><circle cx="763.10" cy="588.20" r="0.45" fill="#bdbdbd"/><path d="M768.80 648.60 v2.4 h-2.4 z" fill="#777"/></svg>
<h3 style="font-size:6.05px;transform:translate(-0.80px,3.85px) rotate(0.07deg)">Building Cooling Efficiency</h3>
</div>
<div class="panel" id="p-vent" style="left:775px;top:582px;width:380px;height:71px">
<svg width="380" height="71" viewBox="775 582 380 71"><rect x="775.2" y="582.6" width="379.80" height="69.60" rx="1.2" fill="#fff" filter="url(#sh)"/><line x1="802.50" y1="639.50" x2="1151.00" y2="639.50" stroke="#f6f6f6" stroke-width="0.6"/><text transform="translate(798.00 640.40) rotate(0.08)" font-size="4.01" fill="#8f8f8f" letter-spacing="0.18" text-anchor="end" font-weight="normal" >0</text><line x1="802.50" y1="625.20" x2="1151.00" y2="625.20" stroke="#f6f6f6" stroke-width="0.6"/><text transform="translate(798.00 626.10) rotate(0.08)" font-size="4.01" fill="#8f8f8f" letter-spacing="0.18" text-anchor="end" font-weight="normal" >0.001</text><line x1="802.50" y1="610.90" x2="1151.00" y2="610.90" stroke="#f6f6f6" stroke-width="0.6"/><text transform="translate(798.00 611.80) rotate(0.08)" font-size="4.01" fill="#8f8f8f" letter-spacing="0.18" text-anchor="end" font-weight="normal" >0.001</text><line x1="802.50" y1="596.60" x2="1151.00" y2="596.60" stroke="#f6f6f6" stroke-width="0.6"/><text transform="translate(798.00 598.00) rotate(0.08)" font-size="4.01" fill="#8f8f8f" letter-spacing="0.18" text-anchor="end" font-weight="normal" >0.002</text><line x1="802.50" y1="596.50" x2="802.50" y2="639.50" stroke="#f6f6f6" stroke-width="0.6"/><line x1="846.06" y1="596.50" x2="846.06" y2="639.50" stroke="#f6f6f6" stroke-width="0.6"/><line x1="889.62" y1="596.50" x2="889.62" y2="639.50" stroke="#f6f6f6" stroke-width="0.6"/><line x1="933.19" y1="596.50" x2="933.19" y2="639.50" stroke="#f6f6f6" stroke-width="0.6"/><line x1="976.75" y1="596.50" x2="976.75" y2="639.50" stroke="#f6f6f6" stroke-width="0.6"/><line x1="1020.31" y1="596.50" x2="1020.31" y2="639.50" stroke="#f6f6f6" stroke-width="0.6"/><line x1="1063.88" y1="596.50" x2="1063.88" y2="639.50" stroke="#f6f6f6" stroke-width="0.6"/><line x1="1107.44" y1="596.50" x2="1107.44" y2="639.50" stroke="#f6f6f6" stroke-width="0.6"/><line x1="1151.00" y1="596.50" x2="1151.00" y2="639.50" stroke="#f6f6f6" stroke-width="0.6"/><rect x="814.65" y="612.00" width="20.50" height="27.50" fill="#184699" /><text transform="translate(824.90 646.40) rotate(0.08)" font-size="4.01" fill="#8f8f8f" letter-spacing="0.18" text-anchor="middle" font-weight="normal" >Kendall</text><rect x="858.22" y="615.50" width="20.50" height="24.00" fill="#184699" /><text transform="translate(868.47 646.40) rotate(0.08)" font-size="4.01" fill="#8f8f8f" letter-spacing="0.18" text-anchor="middle" font-weight="normal" >Brookline</text><rect x="901.79" y="616.00" width="20.50" height="23.50" fill="#184699" /><text transform="translate(912.04 646.40) rotate(0.08)" font-size="4.01" fill="#8f8f8f" letter-spacing="0.18" text-anchor="middle" font-weight="normal" >Farnham</text><rect x="945.36" y="616.50" width="20.50" height="23.00" fill="#184699" /><text transform="translate(955.61 646.40) rotate(0.08)" font-size="4.01" fill="#8f8f8f" letter-spacing="0.18" text-anchor="middle" font-weight="normal" >Paris</text><rect x="988.93" y="618.50" width="20.50" height="21.00" fill="#184699" /><text transform="translate(999.18 646.40) rotate(0.08)" font-size="4.01" fill="#8f8f8f" letter-spacing="0.18" text-anchor="middle" font-weight="normal" >Inman</text><rect x="1032.50" y="620.00" width="20.50" height="19.50" fill="#184699" /><text transform="translate(1042.75 646.40) rotate(0.08)" font-size="4.01" fill="#8f8f8f" letter-spacing="0.18" text-anchor="middle" font-weight="normal" >Boston</text><rect x="1076.07" y="621.00" width="20.50" height="18.50" fill="#184699" /><text transform="translate(1086.32 646.40) rotate(0.08)" font-size="4.01" fill="#8f8f8f" letter-spacing="0.18" text-anchor="middle" font-weight="normal" >Sydney</text><rect x="1119.64" y="628.00" width="20.50" height="11.50" fill="#184699" /><text transform="translate(1129.89 646.40) rotate(0.08)" font-size="4.01" fill="#8f8f8f" letter-spacing="0.18" text-anchor="middle" font-weight="normal" >South Boston</text><text x="0.00" y="0.00" font-size="4.01" fill="#8f8f8f" letter-spacing="0.18" text-anchor="middle" font-weight="normal" transform="translate(784 618.5) rotate(-90.08)">Avg</text><rect x="1144.30" y="598.25" width="6.20" height="1.30" fill="#8a8a8a" /><rect x="1144.30" y="600.05" width="6.20" height="1.30" fill="#8a8a8a" /><rect x="1144.30" y="601.85" width="6.20" height="1.30" fill="#8a8a8a" /><path d="M1134.40 584.50 h4.8 l-1.9 2.3 v2.3 l-1 -0.7 v-1.6 z" fill="#555"/><text transform="translate(1140.70 588.10) rotate(0.08)" font-size="3.54" fill="#b5b5b5" letter-spacing="0.18" text-anchor="middle" font-weight="normal" >1</text><circle cx="1148.10" cy="585.20" r="0.45" fill="#bdbdbd"/><circle cx="1148.10" cy="586.70" r="0.45" fill="#bdbdbd"/><circle cx="1148.10" cy="588.20" r="0.45" fill="#bdbdbd"/><path d="M1153.80 648.60 v2.4 h-2.4 z" fill="#777"/></svg>
<h3 style="font-size:6.17px;transform:translate(0.20px,3.02px) rotate(0.07deg)">Building Ventilation Efficiency</h3>
</div>
</div>
</div></body></html>
